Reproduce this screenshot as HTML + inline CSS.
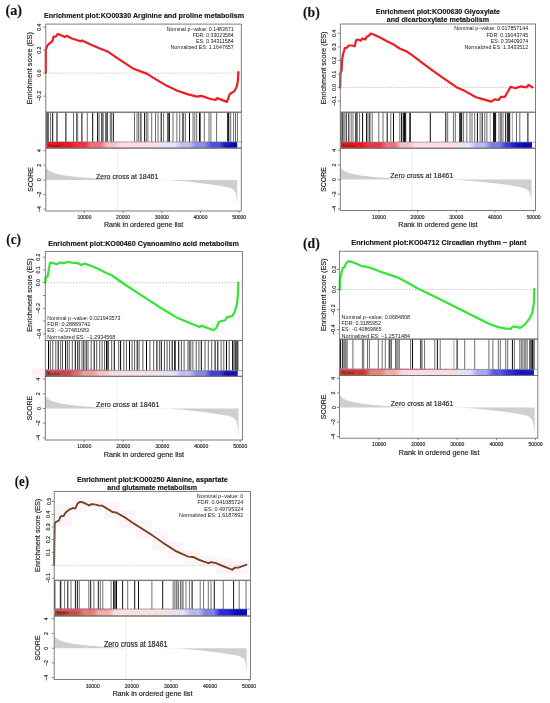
<!DOCTYPE html>
<html><head><meta charset="utf-8"><style>
html,body{margin:0;padding:0;background:#fff;}
svg{display:block;filter:blur(0.35px);}
text{stroke:#333;stroke-width:0.18px;}
text.s{stroke:none;}
</style></head><body>
<svg width="550" height="703" viewBox="0 0 550 703">
<rect width="550" height="703" fill="#ffffff"/>
<text x="5.40" y="15.10" font-size="14.5" font-family="'Liberation Serif', 'Times New Roman', serif" fill="#111" font-weight="bold" textLength="16.60" lengthAdjust="spacingAndGlyphs">(a)</text>
<text x="144.00" y="18.00" font-size="7.8" font-family="'Liberation Sans', Arial, Helvetica, sans-serif" fill="#111" text-anchor="middle" font-weight="bold" textLength="200.00" lengthAdjust="spacingAndGlyphs">Enrichment plot:KO00330 Arginine and proline metabolism</text>
<line x1="45.80" y1="73.10" x2="241.30" y2="73.10" stroke="#aaaaaa" stroke-width="0.8" stroke-dasharray="1.2,1.6"/>
<polyline points="45.80,72.70 45.80,49.50 47.30,45.80 49.10,43.60 51.30,42.20 52.70,40.40 53.50,36.70 55.80,36.70 57.60,34.00 60.40,34.90 64.90,37.10 66.70,35.80 71.30,38.20 76.70,40.00 80.40,41.30 82.20,40.40 85.80,42.20 90.00,44.20 98.70,47.90 107.50,51.40 116.20,57.30 124.90,63.20 133.60,68.80 146.70,73.60 155.50,79.10 166.40,85.60 177.30,90.70 188.20,94.40 196.90,96.60 201.30,95.90 210.00,98.70 215.60,100.00 217.10,98.10 227.00,101.90 229.80,94.00 234.50,91.10 236.80,86.40 237.90,80.70 238.30,72.20" fill="none" stroke="#ee1c24" stroke-width="2.2" stroke-linejoin="round" stroke-linecap="round"/>
<text x="233.70" y="30.60" font-size="5.2" font-family="'Liberation Sans', Arial, Helvetica, sans-serif" fill="#1a1a1a" text-anchor="end" textLength="67.00" lengthAdjust="spacingAndGlyphs" class="s">Nominal p−value: 0.1483671</text>
<text x="233.70" y="36.80" font-size="5.2" font-family="'Liberation Sans', Arial, Helvetica, sans-serif" fill="#1a1a1a" text-anchor="end" textLength="41.00" lengthAdjust="spacingAndGlyphs" class="s">FDR: 0.33023584</text>
<text x="233.70" y="43.00" font-size="5.2" font-family="'Liberation Sans', Arial, Helvetica, sans-serif" fill="#1a1a1a" text-anchor="end" textLength="37.80" lengthAdjust="spacingAndGlyphs" class="s">ES: 0.34311584</text>
<text x="233.70" y="49.20" font-size="5.2" font-family="'Liberation Sans', Arial, Helvetica, sans-serif" fill="#1a1a1a" text-anchor="end" textLength="63.20" lengthAdjust="spacingAndGlyphs" class="s">Normalized ES: 1.1647657</text>
<line x1="43.30" y1="27.10" x2="45.80" y2="27.10" stroke="#707070" stroke-width="0.8"/>
<text x="39.00" y="27.10" font-size="5.2" font-family="'Liberation Sans', Arial, Helvetica, sans-serif" fill="#222" text-anchor="middle" transform="rotate(-90 39.00 27.10)" dominant-baseline="central">0.4</text>
<line x1="43.30" y1="50.10" x2="45.80" y2="50.10" stroke="#707070" stroke-width="0.8"/>
<text x="39.00" y="50.10" font-size="5.2" font-family="'Liberation Sans', Arial, Helvetica, sans-serif" fill="#222" text-anchor="middle" transform="rotate(-90 39.00 50.10)" dominant-baseline="central">0.2</text>
<line x1="43.30" y1="73.10" x2="45.80" y2="73.10" stroke="#707070" stroke-width="0.8"/>
<text x="39.00" y="73.10" font-size="5.2" font-family="'Liberation Sans', Arial, Helvetica, sans-serif" fill="#222" text-anchor="middle" transform="rotate(-90 39.00 73.10)" dominant-baseline="central">0.0</text>
<line x1="43.30" y1="96.10" x2="45.80" y2="96.10" stroke="#707070" stroke-width="0.8"/>
<text x="39.00" y="96.10" font-size="5.2" font-family="'Liberation Sans', Arial, Helvetica, sans-serif" fill="#222" text-anchor="middle" transform="rotate(-90 39.00 96.10)" dominant-baseline="central">−0.2</text>
<text x="30.00" y="68.40" font-size="7.2" font-family="'Liberation Sans', Arial, Helvetica, sans-serif" fill="#222" text-anchor="middle" textLength="72.40" lengthAdjust="spacingAndGlyphs" transform="rotate(-90 30.00 68.40)" dominant-baseline="central">Enrichment score (ES)</text>
<line x1="46.90" y1="112.20" x2="46.90" y2="141.90" stroke="#000" stroke-width="1.0" stroke-opacity="0.9774999999999999"/>
<line x1="48.10" y1="112.20" x2="48.10" y2="141.90" stroke="#000" stroke-width="1.0" stroke-opacity="0.9774999999999999"/>
<line x1="50.60" y1="112.20" x2="50.60" y2="141.90" stroke="#000" stroke-width="1.0" stroke-opacity="0.575"/>
<line x1="52.70" y1="112.20" x2="52.70" y2="141.90" stroke="#000" stroke-width="1.0" stroke-opacity="0.9774999999999999"/>
<line x1="57.00" y1="112.20" x2="57.00" y2="141.90" stroke="#000" stroke-width="1.0" stroke-opacity="0.9774999999999999"/>
<line x1="65.90" y1="112.20" x2="65.90" y2="141.90" stroke="#000" stroke-width="1.0" stroke-opacity="0.9774999999999999"/>
<line x1="73.50" y1="112.20" x2="73.50" y2="141.90" stroke="#000" stroke-width="1.0" stroke-opacity="0.575"/>
<line x1="76.50" y1="112.20" x2="76.50" y2="141.90" stroke="#000" stroke-width="1.0" stroke-opacity="0.575"/>
<line x1="77.70" y1="112.20" x2="77.70" y2="141.90" stroke="#000" stroke-width="1.0" stroke-opacity="0.575"/>
<line x1="81.90" y1="112.20" x2="81.90" y2="141.90" stroke="#000" stroke-width="1.0" stroke-opacity="0.9774999999999999"/>
<line x1="87.30" y1="112.20" x2="87.30" y2="141.90" stroke="#000" stroke-width="1.0" stroke-opacity="0.575"/>
<line x1="92.70" y1="112.20" x2="92.70" y2="141.90" stroke="#000" stroke-width="1.0" stroke-opacity="0.9774999999999999"/>
<line x1="97.60" y1="112.20" x2="97.60" y2="141.90" stroke="#000" stroke-width="1.0" stroke-opacity="0.9774999999999999"/>
<line x1="99.10" y1="112.20" x2="99.10" y2="141.90" stroke="#000" stroke-width="1.0" stroke-opacity="0.575"/>
<line x1="101.50" y1="112.20" x2="101.50" y2="141.90" stroke="#000" stroke-width="1.0" stroke-opacity="0.575"/>
<line x1="102.30" y1="112.20" x2="102.30" y2="141.90" stroke="#000" stroke-width="1.0" stroke-opacity="0.575"/>
<line x1="103.20" y1="112.20" x2="103.20" y2="141.90" stroke="#000" stroke-width="1.0" stroke-opacity="0.575"/>
<line x1="105.90" y1="112.20" x2="105.90" y2="141.90" stroke="#000" stroke-width="1.0" stroke-opacity="0.9774999999999999"/>
<line x1="107.20" y1="112.20" x2="107.20" y2="141.90" stroke="#000" stroke-width="1.0" stroke-opacity="0.9774999999999999"/>
<line x1="110.30" y1="112.20" x2="110.30" y2="141.90" stroke="#000" stroke-width="1.0" stroke-opacity="0.575"/>
<line x1="111.40" y1="112.20" x2="111.40" y2="141.90" stroke="#000" stroke-width="1.0" stroke-opacity="0.575"/>
<line x1="113.30" y1="112.20" x2="113.30" y2="141.90" stroke="#000" stroke-width="1.0" stroke-opacity="0.9774999999999999"/>
<line x1="134.50" y1="112.20" x2="134.50" y2="141.90" stroke="#000" stroke-width="1.0" stroke-opacity="0.575"/>
<line x1="137.00" y1="112.20" x2="137.00" y2="141.90" stroke="#000" stroke-width="1.0" stroke-opacity="0.575"/>
<line x1="138.60" y1="112.20" x2="138.60" y2="141.90" stroke="#000" stroke-width="1.0" stroke-opacity="0.575"/>
<line x1="140.30" y1="112.20" x2="140.30" y2="141.90" stroke="#000" stroke-width="1.0" stroke-opacity="0.575"/>
<line x1="141.20" y1="112.20" x2="141.20" y2="141.90" stroke="#000" stroke-width="1.0" stroke-opacity="0.575"/>
<line x1="144.60" y1="112.20" x2="144.60" y2="141.90" stroke="#000" stroke-width="1.0" stroke-opacity="0.9774999999999999"/>
<line x1="146.30" y1="112.20" x2="146.30" y2="141.90" stroke="#000" stroke-width="1.0" stroke-opacity="0.575"/>
<line x1="147.90" y1="112.20" x2="147.90" y2="141.90" stroke="#000" stroke-width="1.0" stroke-opacity="0.575"/>
<line x1="151.70" y1="112.20" x2="151.70" y2="141.90" stroke="#000" stroke-width="1.0" stroke-opacity="0.575"/>
<line x1="155.50" y1="112.20" x2="155.50" y2="141.90" stroke="#000" stroke-width="1.0" stroke-opacity="0.575"/>
<line x1="158.00" y1="112.20" x2="158.00" y2="141.90" stroke="#000" stroke-width="1.0" stroke-opacity="0.575"/>
<line x1="161.20" y1="112.20" x2="161.20" y2="141.90" stroke="#000" stroke-width="1.0" stroke-opacity="0.9774999999999999"/>
<line x1="163.60" y1="112.20" x2="163.60" y2="141.90" stroke="#000" stroke-width="1.0" stroke-opacity="0.575"/>
<line x1="168.00" y1="112.20" x2="168.00" y2="141.90" stroke="#000" stroke-width="2.2" stroke-opacity="0.575"/>
<line x1="169.40" y1="112.20" x2="169.40" y2="141.90" stroke="#000" stroke-width="1.0" stroke-opacity="0.9774999999999999"/>
<line x1="173.00" y1="112.20" x2="173.00" y2="141.90" stroke="#000" stroke-width="1.0" stroke-opacity="0.575"/>
<line x1="176.90" y1="112.20" x2="176.90" y2="141.90" stroke="#000" stroke-width="1.0" stroke-opacity="0.575"/>
<line x1="179.70" y1="112.20" x2="179.70" y2="141.90" stroke="#000" stroke-width="1.0" stroke-opacity="0.575"/>
<line x1="183.00" y1="112.20" x2="183.00" y2="141.90" stroke="#000" stroke-width="2.2" stroke-opacity="0.575"/>
<line x1="185.40" y1="112.20" x2="185.40" y2="141.90" stroke="#000" stroke-width="1.0" stroke-opacity="0.575"/>
<line x1="189.50" y1="112.20" x2="189.50" y2="141.90" stroke="#000" stroke-width="1.0" stroke-opacity="0.9774999999999999"/>
<line x1="193.00" y1="112.20" x2="193.00" y2="141.90" stroke="#000" stroke-width="1.0" stroke-opacity="0.575"/>
<line x1="194.80" y1="112.20" x2="194.80" y2="141.90" stroke="#000" stroke-width="1.0" stroke-opacity="0.575"/>
<line x1="196.70" y1="112.20" x2="196.70" y2="141.90" stroke="#000" stroke-width="1.0" stroke-opacity="0.575"/>
<line x1="199.50" y1="112.20" x2="199.50" y2="141.90" stroke="#000" stroke-width="1.0" stroke-opacity="0.9774999999999999"/>
<line x1="200.50" y1="112.20" x2="200.50" y2="141.90" stroke="#000" stroke-width="1.0" stroke-opacity="0.575"/>
<line x1="204.30" y1="112.20" x2="204.30" y2="141.90" stroke="#000" stroke-width="1.0" stroke-opacity="0.575"/>
<line x1="209.00" y1="112.20" x2="209.00" y2="141.90" stroke="#000" stroke-width="1.0" stroke-opacity="0.575"/>
<line x1="210.90" y1="112.20" x2="210.90" y2="141.90" stroke="#000" stroke-width="1.0" stroke-opacity="0.575"/>
<line x1="216.60" y1="112.20" x2="216.60" y2="141.90" stroke="#000" stroke-width="1.0" stroke-opacity="0.575"/>
<line x1="228.20" y1="112.20" x2="228.20" y2="141.90" stroke="#000" stroke-width="2.2" stroke-opacity="0.8624999999999999"/>
<line x1="230.70" y1="112.20" x2="230.70" y2="141.90" stroke="#000" stroke-width="1.0" stroke-opacity="0.575"/>
<line x1="233.60" y1="112.20" x2="233.60" y2="141.90" stroke="#000" stroke-width="1.0" stroke-opacity="0.575"/>
<line x1="235.50" y1="112.20" x2="235.50" y2="141.90" stroke="#000" stroke-width="1.0" stroke-opacity="0.575"/>
<line x1="237.40" y1="112.20" x2="237.40" y2="141.90" stroke="#000" stroke-width="1.0" stroke-opacity="0.575"/>
<defs><linearGradient id="ga" x1="0" x2="1" y1="0" y2="0"><stop offset="0.000" stop-color="#e8141e"/><stop offset="0.122" stop-color="#e8141e"/><stop offset="0.158" stop-color="#ee3040"/><stop offset="0.200" stop-color="#ee3040"/><stop offset="0.237" stop-color="#f47080"/><stop offset="0.284" stop-color="#f47080"/><stop offset="0.321" stop-color="#f8c0c6"/><stop offset="0.357" stop-color="#f8c0c6"/><stop offset="0.394" stop-color="#fcdde0"/><stop offset="0.580" stop-color="#fcdde0"/><stop offset="0.617" stop-color="#e4e4fa"/><stop offset="0.672" stop-color="#e4e4fa"/><stop offset="0.708" stop-color="#c0c0f2"/><stop offset="0.750" stop-color="#c0c0f2"/><stop offset="0.787" stop-color="#8c8cea"/><stop offset="0.829" stop-color="#8c8cea"/><stop offset="0.865" stop-color="#5050e0"/><stop offset="0.902" stop-color="#5050e0"/><stop offset="0.939" stop-color="#1c1cd2"/><stop offset="0.944" stop-color="#1c1cd2"/><stop offset="0.981" stop-color="#0808cc"/><stop offset="1.000" stop-color="#0808cc"/></linearGradient></defs>
<rect x="46.30" y="141.90" width="190.90" height="6.20" fill="url(#ga)"/>
<path d="M46.00,179.90 L46.00,167.09 L47.00,168.92 L49.00,170.75 L52.00,172.21 L55.50,173.46 L60.00,174.63 L68.00,176.02 L80.00,177.34 L96.00,178.58 L110.00,179.31 L117.60,179.90 L140.00,180.05 L170.00,180.27 L185.00,181.36 L199.00,182.97 L210.00,184.29 L221.00,186.05 L228.00,187.22 L231.00,188.24 L234.00,190.15 L235.50,192.34 L236.50,196.74 L237.20,205.52 L237.20,179.90 Z" fill="#cfcfcf" stroke="none"/>
<line x1="117.60" y1="148.10" x2="117.60" y2="211.00" stroke="#ebebeb" stroke-width="0.8"/>
<text x="96.10" y="178.80" font-size="8.0" font-family="'Liberation Sans', Arial, Helvetica, sans-serif" fill="#1a1a1a" textLength="62.30" lengthAdjust="spacingAndGlyphs">Zero cross at 18461</text>
<line x1="43.30" y1="150.62" x2="45.80" y2="150.62" stroke="#707070" stroke-width="0.8"/>
<text x="39.00" y="150.62" font-size="5.2" font-family="'Liberation Sans', Arial, Helvetica, sans-serif" fill="#222" text-anchor="middle" transform="rotate(-90 39.00 150.62)" dominant-baseline="central">4</text>
<line x1="43.30" y1="165.26" x2="45.80" y2="165.26" stroke="#707070" stroke-width="0.8"/>
<text x="39.00" y="165.26" font-size="5.2" font-family="'Liberation Sans', Arial, Helvetica, sans-serif" fill="#222" text-anchor="middle" transform="rotate(-90 39.00 165.26)" dominant-baseline="central">2</text>
<line x1="43.30" y1="179.90" x2="45.80" y2="179.90" stroke="#707070" stroke-width="0.8"/>
<text x="39.00" y="179.90" font-size="5.2" font-family="'Liberation Sans', Arial, Helvetica, sans-serif" fill="#222" text-anchor="middle" transform="rotate(-90 39.00 179.90)" dominant-baseline="central">0</text>
<line x1="43.30" y1="194.54" x2="45.80" y2="194.54" stroke="#707070" stroke-width="0.8"/>
<text x="39.00" y="194.54" font-size="5.2" font-family="'Liberation Sans', Arial, Helvetica, sans-serif" fill="#222" text-anchor="middle" transform="rotate(-90 39.00 194.54)" dominant-baseline="central">−2</text>
<line x1="43.30" y1="209.18" x2="45.80" y2="209.18" stroke="#707070" stroke-width="0.8"/>
<text x="39.00" y="209.18" font-size="5.2" font-family="'Liberation Sans', Arial, Helvetica, sans-serif" fill="#222" text-anchor="middle" transform="rotate(-90 39.00 209.18)" dominant-baseline="central">−4</text>
<text x="30.20" y="179.50" font-size="7.2" font-family="'Liberation Sans', Arial, Helvetica, sans-serif" fill="#222" text-anchor="middle" textLength="24.50" lengthAdjust="spacingAndGlyphs" transform="rotate(-90 30.20 179.50)" dominant-baseline="central">SCORE</text>
<line x1="84.47" y1="211.00" x2="84.47" y2="213.00" stroke="#707070" stroke-width="0.8"/>
<text x="84.47" y="218.60" font-size="5.0" font-family="'Liberation Sans', Arial, Helvetica, sans-serif" fill="#222" text-anchor="middle" textLength="14.00" lengthAdjust="spacingAndGlyphs">10000</text>
<line x1="123.14" y1="211.00" x2="123.14" y2="213.00" stroke="#707070" stroke-width="0.8"/>
<text x="123.14" y="218.60" font-size="5.0" font-family="'Liberation Sans', Arial, Helvetica, sans-serif" fill="#222" text-anchor="middle" textLength="14.00" lengthAdjust="spacingAndGlyphs">20000</text>
<line x1="161.81" y1="211.00" x2="161.81" y2="213.00" stroke="#707070" stroke-width="0.8"/>
<text x="161.81" y="218.60" font-size="5.0" font-family="'Liberation Sans', Arial, Helvetica, sans-serif" fill="#222" text-anchor="middle" textLength="14.00" lengthAdjust="spacingAndGlyphs">30000</text>
<line x1="200.48" y1="211.00" x2="200.48" y2="213.00" stroke="#707070" stroke-width="0.8"/>
<text x="200.48" y="218.60" font-size="5.0" font-family="'Liberation Sans', Arial, Helvetica, sans-serif" fill="#222" text-anchor="middle" textLength="14.00" lengthAdjust="spacingAndGlyphs">40000</text>
<line x1="239.15" y1="211.00" x2="239.15" y2="213.00" stroke="#707070" stroke-width="0.8"/>
<text x="239.15" y="218.60" font-size="5.0" font-family="'Liberation Sans', Arial, Helvetica, sans-serif" fill="#222" text-anchor="middle" textLength="14.00" lengthAdjust="spacingAndGlyphs">50000</text>
<text x="143.60" y="226.70" font-size="6.9" font-family="'Liberation Sans', Arial, Helvetica, sans-serif" fill="#1a1a1a" text-anchor="middle" textLength="79.30" lengthAdjust="spacingAndGlyphs">Rank in ordered gene list</text>
<g fill="none" stroke="#707070" stroke-width="0.9">
<rect x="45.80" y="24.10" width="195.50" height="88.10"/>
<rect x="45.80" y="112.20" width="195.50" height="35.90"/>
<rect x="45.80" y="148.10" width="195.50" height="62.90"/>
<line x1="45.80" y1="141.90" x2="241.30" y2="141.90" stroke-width="0.6"/>
</g>
<text x="48.30" y="146.50" font-size="2.6" font-family="'Liberation Sans', Arial, Helvetica, sans-serif" fill="#5a1010" textLength="12.00" lengthAdjust="spacingAndGlyphs" class="s">Positive</text>
<text x="235.20" y="146.50" font-size="2.6" font-family="'Liberation Sans', Arial, Helvetica, sans-serif" fill="#10105a" text-anchor="end" textLength="12.00" lengthAdjust="spacingAndGlyphs" class="s">Negative</text>
<text x="303.00" y="17.10" font-size="14.5" font-family="'Liberation Serif', 'Times New Roman', serif" fill="#111" font-weight="bold" textLength="16.80" lengthAdjust="spacingAndGlyphs">(b)</text>
<text x="437.90" y="13.70" font-size="7.4" font-family="'Liberation Sans', Arial, Helvetica, sans-serif" fill="#111" text-anchor="middle" font-weight="bold" textLength="124.30" lengthAdjust="spacingAndGlyphs">Enrichment plot:KO00630 Glyoxylate</text>
<text x="437.90" y="21.60" font-size="7.4" font-family="'Liberation Sans', Arial, Helvetica, sans-serif" fill="#111" text-anchor="middle" font-weight="bold" textLength="102.20" lengthAdjust="spacingAndGlyphs">and dicarboxylate metabolism</text>
<line x1="340.30" y1="87.40" x2="535.50" y2="87.40" stroke="#aaaaaa" stroke-width="0.8" stroke-dasharray="1.2,1.6"/>
<polyline points="340.20,87.60 340.50,73.10 341.60,70.40 342.00,60.40 343.10,54.00 344.90,48.00 347.10,47.60 348.50,45.50 351.60,45.50 354.70,46.20 356.20,40.00 358.00,39.50 360.70,40.70 362.50,38.50 365.30,39.50 366.70,36.70 368.90,35.80 370.70,33.50 372.50,34.00 380.00,37.60 386.50,40.90 393.10,44.20 399.60,48.50 407.30,51.80 412.70,55.70 423.60,63.80 434.50,71.90 445.50,79.70 456.40,87.20 465.10,91.10 476.00,97.20 483.60,99.40 491.30,101.60 494.60,99.40 498.60,100.00 501.10,96.80 504.90,96.80 507.70,92.00 510.60,86.80 515.30,88.30 521.00,86.40 526.60,87.30 528.50,84.90 532.30,87.30" fill="none" stroke="#ee1c24" stroke-width="2.2" stroke-linejoin="round" stroke-linecap="round"/>
<text x="528.20" y="30.20" font-size="5.2" font-family="'Liberation Sans', Arial, Helvetica, sans-serif" fill="#1a1a1a" text-anchor="end" textLength="74.00" lengthAdjust="spacingAndGlyphs" class="s">Nominal p−value: 0.017857144</text>
<text x="528.20" y="36.50" font-size="5.2" font-family="'Liberation Sans', Arial, Helvetica, sans-serif" fill="#1a1a1a" text-anchor="end" textLength="41.80" lengthAdjust="spacingAndGlyphs" class="s">FDR: 0.19043745</text>
<text x="528.20" y="42.80" font-size="5.2" font-family="'Liberation Sans', Arial, Helvetica, sans-serif" fill="#1a1a1a" text-anchor="end" textLength="37.40" lengthAdjust="spacingAndGlyphs" class="s">ES: 0.39409074</text>
<text x="528.20" y="49.10" font-size="5.2" font-family="'Liberation Sans', Arial, Helvetica, sans-serif" fill="#1a1a1a" text-anchor="end" textLength="63.80" lengthAdjust="spacingAndGlyphs" class="s">Normalized ES: 1.3433512</text>
<line x1="337.80" y1="33.30" x2="340.30" y2="33.30" stroke="#707070" stroke-width="0.8"/>
<text x="333.60" y="33.30" font-size="5.2" font-family="'Liberation Sans', Arial, Helvetica, sans-serif" fill="#222" text-anchor="middle" transform="rotate(-90 333.60 33.30)" dominant-baseline="central">0.4</text>
<line x1="337.80" y1="46.90" x2="340.30" y2="46.90" stroke="#707070" stroke-width="0.8"/>
<text x="333.60" y="46.90" font-size="5.2" font-family="'Liberation Sans', Arial, Helvetica, sans-serif" fill="#222" text-anchor="middle" transform="rotate(-90 333.60 46.90)" dominant-baseline="central">0.3</text>
<line x1="337.80" y1="60.50" x2="340.30" y2="60.50" stroke="#707070" stroke-width="0.8"/>
<text x="333.60" y="60.50" font-size="5.2" font-family="'Liberation Sans', Arial, Helvetica, sans-serif" fill="#222" text-anchor="middle" transform="rotate(-90 333.60 60.50)" dominant-baseline="central">0.2</text>
<line x1="337.80" y1="74.10" x2="340.30" y2="74.10" stroke="#707070" stroke-width="0.8"/>
<text x="333.60" y="74.10" font-size="5.2" font-family="'Liberation Sans', Arial, Helvetica, sans-serif" fill="#222" text-anchor="middle" transform="rotate(-90 333.60 74.10)" dominant-baseline="central">0.1</text>
<line x1="337.80" y1="87.40" x2="340.30" y2="87.40" stroke="#707070" stroke-width="0.8"/>
<text x="333.60" y="87.40" font-size="5.2" font-family="'Liberation Sans', Arial, Helvetica, sans-serif" fill="#222" text-anchor="middle" transform="rotate(-90 333.60 87.40)" dominant-baseline="central">0.0</text>
<line x1="337.80" y1="101.00" x2="340.30" y2="101.00" stroke="#707070" stroke-width="0.8"/>
<text x="333.60" y="101.00" font-size="5.2" font-family="'Liberation Sans', Arial, Helvetica, sans-serif" fill="#222" text-anchor="middle" transform="rotate(-90 333.60 101.00)" dominant-baseline="central">−0.1</text>
<text x="323.60" y="68.00" font-size="7.2" font-family="'Liberation Sans', Arial, Helvetica, sans-serif" fill="#222" text-anchor="middle" textLength="73.00" lengthAdjust="spacingAndGlyphs" transform="rotate(-90 323.60 68.00)" dominant-baseline="central">Enrichment score (ES)</text>
<line x1="341.00" y1="112.20" x2="341.00" y2="142.10" stroke="#000" stroke-width="1.0" stroke-opacity="0.9774999999999999"/>
<line x1="342.80" y1="112.20" x2="342.80" y2="142.10" stroke="#000" stroke-width="1.0" stroke-opacity="0.9774999999999999"/>
<line x1="344.20" y1="112.20" x2="344.20" y2="142.10" stroke="#000" stroke-width="1.0" stroke-opacity="0.575"/>
<line x1="346.20" y1="112.20" x2="346.20" y2="142.10" stroke="#000" stroke-width="1.0" stroke-opacity="0.9774999999999999"/>
<line x1="348.80" y1="112.20" x2="348.80" y2="142.10" stroke="#000" stroke-width="1.0" stroke-opacity="0.9774999999999999"/>
<line x1="351.20" y1="112.20" x2="351.20" y2="142.10" stroke="#000" stroke-width="1.0" stroke-opacity="0.575"/>
<line x1="353.00" y1="112.20" x2="353.00" y2="142.10" stroke="#000" stroke-width="1.0" stroke-opacity="0.575"/>
<line x1="355.80" y1="112.20" x2="355.80" y2="142.10" stroke="#000" stroke-width="1.0" stroke-opacity="0.9774999999999999"/>
<line x1="357.00" y1="112.20" x2="357.00" y2="142.10" stroke="#000" stroke-width="1.0" stroke-opacity="0.9774999999999999"/>
<line x1="359.60" y1="112.20" x2="359.60" y2="142.10" stroke="#000" stroke-width="1.0" stroke-opacity="0.575"/>
<line x1="362.60" y1="112.20" x2="362.60" y2="142.10" stroke="#000" stroke-width="1.0" stroke-opacity="0.9774999999999999"/>
<line x1="366.60" y1="112.20" x2="366.60" y2="142.10" stroke="#000" stroke-width="1.0" stroke-opacity="0.9774999999999999"/>
<line x1="368.00" y1="112.20" x2="368.00" y2="142.10" stroke="#000" stroke-width="1.0" stroke-opacity="0.575"/>
<line x1="369.80" y1="112.20" x2="369.80" y2="142.10" stroke="#000" stroke-width="1.0" stroke-opacity="0.9774999999999999"/>
<line x1="372.20" y1="112.20" x2="372.20" y2="142.10" stroke="#000" stroke-width="1.0" stroke-opacity="0.575"/>
<line x1="378.80" y1="112.20" x2="378.80" y2="142.10" stroke="#000" stroke-width="1.0" stroke-opacity="0.575"/>
<line x1="383.00" y1="112.20" x2="383.00" y2="142.10" stroke="#000" stroke-width="1.0" stroke-opacity="0.575"/>
<line x1="387.20" y1="112.20" x2="387.20" y2="142.10" stroke="#000" stroke-width="1.0" stroke-opacity="0.9774999999999999"/>
<line x1="390.80" y1="112.20" x2="390.80" y2="142.10" stroke="#000" stroke-width="1.0" stroke-opacity="0.575"/>
<line x1="393.50" y1="112.20" x2="393.50" y2="142.10" stroke="#000" stroke-width="1.0" stroke-opacity="0.9774999999999999"/>
<line x1="399.80" y1="112.20" x2="399.80" y2="142.10" stroke="#000" stroke-width="1.0" stroke-opacity="0.575"/>
<line x1="401.60" y1="112.20" x2="401.60" y2="142.10" stroke="#000" stroke-width="1.0" stroke-opacity="0.9774999999999999"/>
<line x1="403.30" y1="112.20" x2="403.30" y2="142.10" stroke="#000" stroke-width="1.0" stroke-opacity="1.0"/>
<line x1="404.50" y1="112.20" x2="404.50" y2="142.10" stroke="#000" stroke-width="1.0" stroke-opacity="1.0"/>
<line x1="405.70" y1="112.20" x2="405.70" y2="142.10" stroke="#000" stroke-width="1.0" stroke-opacity="1.0"/>
<line x1="409.50" y1="112.20" x2="409.50" y2="142.10" stroke="#000" stroke-width="1.0" stroke-opacity="0.575"/>
<line x1="410.30" y1="112.20" x2="410.30" y2="142.10" stroke="#000" stroke-width="1.0" stroke-opacity="0.9774999999999999"/>
<line x1="430.30" y1="112.20" x2="430.30" y2="142.10" stroke="#000" stroke-width="1.0" stroke-opacity="0.9774999999999999"/>
<line x1="445.80" y1="112.20" x2="445.80" y2="142.10" stroke="#000" stroke-width="1.0" stroke-opacity="0.9774999999999999"/>
<line x1="447.70" y1="112.20" x2="447.70" y2="142.10" stroke="#000" stroke-width="1.0" stroke-opacity="0.575"/>
<line x1="453.40" y1="112.20" x2="453.40" y2="142.10" stroke="#000" stroke-width="1.0" stroke-opacity="0.575"/>
<line x1="455.30" y1="112.20" x2="455.30" y2="142.10" stroke="#000" stroke-width="1.0" stroke-opacity="0.575"/>
<line x1="459.80" y1="112.20" x2="459.80" y2="142.10" stroke="#000" stroke-width="1.0" stroke-opacity="1.0"/>
<line x1="460.80" y1="112.20" x2="460.80" y2="142.10" stroke="#000" stroke-width="1.0" stroke-opacity="1.0"/>
<line x1="461.70" y1="112.20" x2="461.70" y2="142.10" stroke="#000" stroke-width="1.0" stroke-opacity="1.0"/>
<line x1="463.60" y1="112.20" x2="463.60" y2="142.10" stroke="#000" stroke-width="1.0" stroke-opacity="0.575"/>
<line x1="466.80" y1="112.20" x2="466.80" y2="142.10" stroke="#000" stroke-width="1.0" stroke-opacity="0.575"/>
<line x1="470.00" y1="112.20" x2="470.00" y2="142.10" stroke="#000" stroke-width="1.0" stroke-opacity="0.575"/>
<line x1="472.00" y1="112.20" x2="472.00" y2="142.10" stroke="#000" stroke-width="1.0" stroke-opacity="0.575"/>
<line x1="474.70" y1="112.20" x2="474.70" y2="142.10" stroke="#000" stroke-width="1.0" stroke-opacity="0.575"/>
<line x1="477.40" y1="112.20" x2="477.40" y2="142.10" stroke="#000" stroke-width="1.0" stroke-opacity="0.9774999999999999"/>
<line x1="480.10" y1="112.20" x2="480.10" y2="142.10" stroke="#000" stroke-width="1.0" stroke-opacity="0.575"/>
<line x1="482.20" y1="112.20" x2="482.20" y2="142.10" stroke="#000" stroke-width="1.0" stroke-opacity="0.9774999999999999"/>
<line x1="484.80" y1="112.20" x2="484.80" y2="142.10" stroke="#000" stroke-width="1.0" stroke-opacity="0.575"/>
<line x1="486.90" y1="112.20" x2="486.90" y2="142.10" stroke="#000" stroke-width="1.0" stroke-opacity="0.575"/>
<line x1="490.20" y1="112.20" x2="490.20" y2="142.10" stroke="#000" stroke-width="1.0" stroke-opacity="0.345"/>
<line x1="493.60" y1="112.20" x2="493.60" y2="142.10" stroke="#000" stroke-width="1.0" stroke-opacity="0.9774999999999999"/>
<line x1="494.60" y1="112.20" x2="494.60" y2="142.10" stroke="#000" stroke-width="1.0" stroke-opacity="0.9774999999999999"/>
<line x1="495.60" y1="112.20" x2="495.60" y2="142.10" stroke="#000" stroke-width="1.0" stroke-opacity="0.9774999999999999"/>
<line x1="499.00" y1="112.20" x2="499.00" y2="142.10" stroke="#000" stroke-width="1.0" stroke-opacity="0.575"/>
<line x1="501.00" y1="112.20" x2="501.00" y2="142.10" stroke="#000" stroke-width="1.0" stroke-opacity="0.9774999999999999"/>
<line x1="503.00" y1="112.20" x2="503.00" y2="142.10" stroke="#000" stroke-width="1.0" stroke-opacity="0.575"/>
<line x1="505.70" y1="112.20" x2="505.70" y2="142.10" stroke="#000" stroke-width="1.0" stroke-opacity="0.9774999999999999"/>
<line x1="507.70" y1="112.20" x2="507.70" y2="142.10" stroke="#000" stroke-width="1.0" stroke-opacity="0.9774999999999999"/>
<line x1="508.70" y1="112.20" x2="508.70" y2="142.10" stroke="#000" stroke-width="1.0" stroke-opacity="0.9774999999999999"/>
<line x1="509.70" y1="112.20" x2="509.70" y2="142.10" stroke="#000" stroke-width="1.0" stroke-opacity="0.9774999999999999"/>
<line x1="512.40" y1="112.20" x2="512.40" y2="142.10" stroke="#000" stroke-width="1.0" stroke-opacity="0.345"/>
<line x1="516.50" y1="112.20" x2="516.50" y2="142.10" stroke="#000" stroke-width="1.0" stroke-opacity="0.575"/>
<line x1="519.80" y1="112.20" x2="519.80" y2="142.10" stroke="#000" stroke-width="1.0" stroke-opacity="0.575"/>
<line x1="527.90" y1="112.20" x2="527.90" y2="142.10" stroke="#000" stroke-width="1.0" stroke-opacity="0.9774999999999999"/>
<defs><linearGradient id="gb" x1="0" x2="1" y1="0" y2="0"><stop offset="0.000" stop-color="#e8141e"/><stop offset="0.108" stop-color="#e8141e"/><stop offset="0.145" stop-color="#ee3040"/><stop offset="0.202" stop-color="#ee3040"/><stop offset="0.239" stop-color="#f47080"/><stop offset="0.281" stop-color="#f47080"/><stop offset="0.317" stop-color="#f8c0c6"/><stop offset="0.354" stop-color="#f8c0c6"/><stop offset="0.391" stop-color="#fcdde0"/><stop offset="0.595" stop-color="#fcdde0"/><stop offset="0.631" stop-color="#e4e4fa"/><stop offset="0.673" stop-color="#e4e4fa"/><stop offset="0.710" stop-color="#b8b8f0"/><stop offset="0.752" stop-color="#b8b8f0"/><stop offset="0.788" stop-color="#7c7ce8"/><stop offset="0.830" stop-color="#7c7ce8"/><stop offset="0.867" stop-color="#3c3cda"/><stop offset="0.877" stop-color="#3c3cda"/><stop offset="0.914" stop-color="#1414d0"/><stop offset="0.929" stop-color="#1414d0"/><stop offset="0.966" stop-color="#0808cc"/><stop offset="1.000" stop-color="#0808cc"/></linearGradient></defs>
<rect x="340.80" y="142.10" width="191.20" height="6.10" fill="url(#gb)"/>
<path d="M340.50,179.60 L340.50,167.16 L341.50,168.62 L343.50,170.45 L346.50,171.91 L350.00,173.16 L354.50,174.33 L362.50,175.72 L374.50,177.04 L390.50,178.28 L404.50,179.01 L412.10,179.60 L434.50,179.75 L458.00,179.97 L478.00,181.43 L494.50,183.26 L508.00,185.09 L520.00,187.29 L526.00,189.12 L529.00,191.31 L530.50,195.70 L531.50,200.10 L531.50,179.60 Z" fill="#cfcfcf" stroke="none"/>
<line x1="412.10" y1="148.20" x2="412.10" y2="210.50" stroke="#ebebeb" stroke-width="0.8"/>
<text x="390.20" y="178.30" font-size="8.0" font-family="'Liberation Sans', Arial, Helvetica, sans-serif" fill="#1a1a1a" textLength="63.00" lengthAdjust="spacingAndGlyphs">Zero cross at 18461</text>
<line x1="337.80" y1="150.32" x2="340.30" y2="150.32" stroke="#707070" stroke-width="0.8"/>
<text x="333.60" y="150.32" font-size="5.2" font-family="'Liberation Sans', Arial, Helvetica, sans-serif" fill="#222" text-anchor="middle" transform="rotate(-90 333.60 150.32)" dominant-baseline="central">4</text>
<line x1="337.80" y1="164.96" x2="340.30" y2="164.96" stroke="#707070" stroke-width="0.8"/>
<text x="333.60" y="164.96" font-size="5.2" font-family="'Liberation Sans', Arial, Helvetica, sans-serif" fill="#222" text-anchor="middle" transform="rotate(-90 333.60 164.96)" dominant-baseline="central">2</text>
<line x1="337.80" y1="179.60" x2="340.30" y2="179.60" stroke="#707070" stroke-width="0.8"/>
<text x="333.60" y="179.60" font-size="5.2" font-family="'Liberation Sans', Arial, Helvetica, sans-serif" fill="#222" text-anchor="middle" transform="rotate(-90 333.60 179.60)" dominant-baseline="central">0</text>
<line x1="337.80" y1="194.24" x2="340.30" y2="194.24" stroke="#707070" stroke-width="0.8"/>
<text x="333.60" y="194.24" font-size="5.2" font-family="'Liberation Sans', Arial, Helvetica, sans-serif" fill="#222" text-anchor="middle" transform="rotate(-90 333.60 194.24)" dominant-baseline="central">−2</text>
<line x1="337.80" y1="208.88" x2="340.30" y2="208.88" stroke="#707070" stroke-width="0.8"/>
<text x="333.60" y="208.88" font-size="5.2" font-family="'Liberation Sans', Arial, Helvetica, sans-serif" fill="#222" text-anchor="middle" transform="rotate(-90 333.60 208.88)" dominant-baseline="central">−4</text>
<text x="323.60" y="179.50" font-size="7.2" font-family="'Liberation Sans', Arial, Helvetica, sans-serif" fill="#222" text-anchor="middle" textLength="24.50" lengthAdjust="spacingAndGlyphs" transform="rotate(-90 323.60 179.50)" dominant-baseline="central">SCORE</text>
<line x1="378.97" y1="210.50" x2="378.97" y2="212.50" stroke="#707070" stroke-width="0.8"/>
<text x="378.97" y="218.60" font-size="5.0" font-family="'Liberation Sans', Arial, Helvetica, sans-serif" fill="#222" text-anchor="middle" textLength="14.00" lengthAdjust="spacingAndGlyphs">10000</text>
<line x1="417.64" y1="210.50" x2="417.64" y2="212.50" stroke="#707070" stroke-width="0.8"/>
<text x="417.64" y="218.60" font-size="5.0" font-family="'Liberation Sans', Arial, Helvetica, sans-serif" fill="#222" text-anchor="middle" textLength="14.00" lengthAdjust="spacingAndGlyphs">20000</text>
<line x1="456.31" y1="210.50" x2="456.31" y2="212.50" stroke="#707070" stroke-width="0.8"/>
<text x="456.31" y="218.60" font-size="5.0" font-family="'Liberation Sans', Arial, Helvetica, sans-serif" fill="#222" text-anchor="middle" textLength="14.00" lengthAdjust="spacingAndGlyphs">30000</text>
<line x1="494.98" y1="210.50" x2="494.98" y2="212.50" stroke="#707070" stroke-width="0.8"/>
<text x="494.98" y="218.60" font-size="5.0" font-family="'Liberation Sans', Arial, Helvetica, sans-serif" fill="#222" text-anchor="middle" textLength="14.00" lengthAdjust="spacingAndGlyphs">40000</text>
<line x1="533.65" y1="210.50" x2="533.65" y2="212.50" stroke="#707070" stroke-width="0.8"/>
<text x="533.65" y="218.60" font-size="5.0" font-family="'Liberation Sans', Arial, Helvetica, sans-serif" fill="#222" text-anchor="middle" textLength="14.00" lengthAdjust="spacingAndGlyphs">50000</text>
<text x="437.90" y="226.70" font-size="6.9" font-family="'Liberation Sans', Arial, Helvetica, sans-serif" fill="#1a1a1a" text-anchor="middle" textLength="79.30" lengthAdjust="spacingAndGlyphs">Rank in ordered gene list</text>
<g fill="none" stroke="#707070" stroke-width="0.9">
<rect x="340.30" y="24.00" width="195.20" height="88.20"/>
<rect x="340.30" y="112.20" width="195.20" height="36.00"/>
<rect x="340.30" y="148.20" width="195.20" height="62.30"/>
<line x1="340.30" y1="142.10" x2="535.50" y2="142.10" stroke-width="0.6"/>
</g>
<text x="342.80" y="146.60" font-size="2.6" font-family="'Liberation Sans', Arial, Helvetica, sans-serif" fill="#5a1010" textLength="12.00" lengthAdjust="spacingAndGlyphs" class="s">Positive</text>
<text x="530.00" y="146.60" font-size="2.6" font-family="'Liberation Sans', Arial, Helvetica, sans-serif" fill="#10105a" text-anchor="end" textLength="12.00" lengthAdjust="spacingAndGlyphs" class="s">Negative</text>
<text x="6.20" y="244.20" font-size="14.5" font-family="'Liberation Serif', 'Times New Roman', serif" fill="#111" font-weight="bold" textLength="14.80" lengthAdjust="spacingAndGlyphs">(c)</text>
<text x="143.60" y="245.60" font-size="7.8" font-family="'Liberation Sans', Arial, Helvetica, sans-serif" fill="#111" text-anchor="middle" font-weight="bold" textLength="190.80" lengthAdjust="spacingAndGlyphs">Enrichment plot:KO00460 Cyanoamino acid metabolism</text>
<line x1="45.30" y1="282.70" x2="242.40" y2="282.70" stroke="#aaaaaa" stroke-width="0.8" stroke-dasharray="1.2,1.6"/>
<polyline points="45.20,282.70 45.70,277.30 47.50,276.90 49.90,263.10 52.10,262.70 56.60,264.20 60.30,262.40 63.90,263.10 67.50,262.00 72.10,262.70 77.50,263.10 81.20,264.90 84.80,263.60 90.30,265.50 97.50,268.50 104.80,272.20 112.10,275.50 124.80,284.50 140.00,294.40 158.90,306.70 177.80,318.10 189.10,322.80 199.50,327.10 201.40,325.60 213.70,330.30 216.60,327.50 219.00,321.80 225.10,320.30 227.00,317.10 232.20,316.20 234.50,312.40 236.80,304.80 237.90,295.40 238.30,282.50" fill="none" stroke="#33e633" stroke-width="2.2" stroke-linejoin="round" stroke-linecap="round"/>
<text x="47.20" y="320.00" font-size="5.2" font-family="'Liberation Sans', Arial, Helvetica, sans-serif" fill="#1a1a1a" textLength="73.20" lengthAdjust="spacingAndGlyphs" class="s">Nominal p−value: 0.021943573</text>
<text x="47.20" y="326.20" font-size="5.2" font-family="'Liberation Sans', Arial, Helvetica, sans-serif" fill="#1a1a1a" textLength="43.10" lengthAdjust="spacingAndGlyphs" class="s">FDR: 0.28889742</text>
<text x="47.20" y="332.40" font-size="5.2" font-family="'Liberation Sans', Arial, Helvetica, sans-serif" fill="#1a1a1a" textLength="41.90" lengthAdjust="spacingAndGlyphs" class="s">ES: −0.37481683</text>
<text x="47.20" y="338.60" font-size="5.2" font-family="'Liberation Sans', Arial, Helvetica, sans-serif" fill="#1a1a1a" textLength="68.10" lengthAdjust="spacingAndGlyphs" class="s">Normalized ES: −1.2934568</text>
<line x1="42.80" y1="257.10" x2="45.30" y2="257.10" stroke="#707070" stroke-width="0.8"/>
<text x="38.50" y="257.10" font-size="5.2" font-family="'Liberation Sans', Arial, Helvetica, sans-serif" fill="#222" text-anchor="middle" transform="rotate(-90 38.50 257.10)" dominant-baseline="central">0.2</text>
<line x1="42.80" y1="269.90" x2="45.30" y2="269.90" stroke="#707070" stroke-width="0.8"/>
<text x="38.50" y="269.90" font-size="5.2" font-family="'Liberation Sans', Arial, Helvetica, sans-serif" fill="#222" text-anchor="middle" transform="rotate(-90 38.50 269.90)" dominant-baseline="central">0.1</text>
<line x1="42.80" y1="282.70" x2="45.30" y2="282.70" stroke="#707070" stroke-width="0.8"/>
<text x="38.50" y="282.70" font-size="5.2" font-family="'Liberation Sans', Arial, Helvetica, sans-serif" fill="#222" text-anchor="middle" transform="rotate(-90 38.50 282.70)" dominant-baseline="central">0.0</text>
<line x1="42.80" y1="295.50" x2="45.30" y2="295.50" stroke="#707070" stroke-width="0.8"/>
<line x1="42.80" y1="308.30" x2="45.30" y2="308.30" stroke="#707070" stroke-width="0.8"/>
<text x="38.50" y="308.30" font-size="5.2" font-family="'Liberation Sans', Arial, Helvetica, sans-serif" fill="#222" text-anchor="middle" transform="rotate(-90 38.50 308.30)" dominant-baseline="central">−0.2</text>
<line x1="42.80" y1="321.10" x2="45.30" y2="321.10" stroke="#707070" stroke-width="0.8"/>
<line x1="42.80" y1="334.00" x2="45.30" y2="334.00" stroke="#707070" stroke-width="0.8"/>
<text x="38.50" y="334.00" font-size="5.2" font-family="'Liberation Sans', Arial, Helvetica, sans-serif" fill="#222" text-anchor="middle" transform="rotate(-90 38.50 334.00)" dominant-baseline="central">−0.4</text>
<text x="29.20" y="295.10" font-size="7.2" font-family="'Liberation Sans', Arial, Helvetica, sans-serif" fill="#222" text-anchor="middle" textLength="73.30" lengthAdjust="spacingAndGlyphs" transform="rotate(-90 29.20 295.10)" dominant-baseline="central">Enrichment score (ES)</text>
<line x1="48.50" y1="340.40" x2="48.50" y2="370.60" stroke="#000" stroke-width="1.0" stroke-opacity="1.0"/>
<line x1="50.30" y1="340.40" x2="50.30" y2="370.60" stroke="#000" stroke-width="1.0" stroke-opacity="0.65"/>
<line x1="52.80" y1="340.40" x2="52.80" y2="370.60" stroke="#000" stroke-width="1.0" stroke-opacity="0.65"/>
<line x1="55.80" y1="340.40" x2="55.80" y2="370.60" stroke="#000" stroke-width="1.0" stroke-opacity="0.65"/>
<line x1="58.20" y1="340.40" x2="58.20" y2="370.60" stroke="#000" stroke-width="1.0" stroke-opacity="1.0"/>
<line x1="60.70" y1="340.40" x2="60.70" y2="370.60" stroke="#000" stroke-width="1.0" stroke-opacity="0.65"/>
<line x1="62.50" y1="340.40" x2="62.50" y2="370.60" stroke="#000" stroke-width="1.0" stroke-opacity="0.65"/>
<line x1="65.60" y1="340.40" x2="65.60" y2="370.60" stroke="#000" stroke-width="1.0" stroke-opacity="1.0"/>
<line x1="67.40" y1="340.40" x2="67.40" y2="370.60" stroke="#000" stroke-width="1.0" stroke-opacity="0.65"/>
<line x1="69.20" y1="340.40" x2="69.20" y2="370.60" stroke="#000" stroke-width="1.0" stroke-opacity="0.65"/>
<line x1="72.30" y1="340.40" x2="72.30" y2="370.60" stroke="#000" stroke-width="1.0" stroke-opacity="0.65"/>
<line x1="75.30" y1="340.40" x2="75.30" y2="370.60" stroke="#000" stroke-width="1.0" stroke-opacity="1.0"/>
<line x1="77.80" y1="340.40" x2="77.80" y2="370.60" stroke="#000" stroke-width="1.0" stroke-opacity="1.0"/>
<line x1="79.60" y1="340.40" x2="79.60" y2="370.60" stroke="#000" stroke-width="1.0" stroke-opacity="0.65"/>
<line x1="82.00" y1="340.40" x2="82.00" y2="370.60" stroke="#000" stroke-width="1.0" stroke-opacity="0.65"/>
<line x1="83.50" y1="340.40" x2="83.50" y2="370.60" stroke="#000" stroke-width="1.0" stroke-opacity="0.65"/>
<line x1="85.00" y1="340.40" x2="85.00" y2="370.60" stroke="#000" stroke-width="1.0" stroke-opacity="0.65"/>
<line x1="86.50" y1="340.40" x2="86.50" y2="370.60" stroke="#000" stroke-width="1.0" stroke-opacity="0.65"/>
<line x1="88.00" y1="340.40" x2="88.00" y2="370.60" stroke="#000" stroke-width="1.0" stroke-opacity="0.65"/>
<line x1="91.20" y1="340.40" x2="91.20" y2="370.60" stroke="#000" stroke-width="1.0" stroke-opacity="0.65"/>
<line x1="94.20" y1="340.40" x2="94.20" y2="370.60" stroke="#000" stroke-width="1.0" stroke-opacity="1.0"/>
<line x1="96.70" y1="340.40" x2="96.70" y2="370.60" stroke="#000" stroke-width="1.0" stroke-opacity="0.65"/>
<line x1="99.70" y1="340.40" x2="99.70" y2="370.60" stroke="#000" stroke-width="1.0" stroke-opacity="0.65"/>
<line x1="102.10" y1="340.40" x2="102.10" y2="370.60" stroke="#000" stroke-width="1.0" stroke-opacity="0.65"/>
<line x1="104.60" y1="340.40" x2="104.60" y2="370.60" stroke="#000" stroke-width="1.0" stroke-opacity="0.65"/>
<line x1="107.00" y1="340.40" x2="107.00" y2="370.60" stroke="#000" stroke-width="1.0" stroke-opacity="1.0"/>
<line x1="106.60" y1="340.40" x2="106.60" y2="370.60" stroke="#000" stroke-width="1.0" stroke-opacity="1.0"/>
<line x1="108.50" y1="340.40" x2="108.50" y2="370.60" stroke="#000" stroke-width="1.0" stroke-opacity="0.65"/>
<line x1="111.70" y1="340.40" x2="111.70" y2="370.60" stroke="#000" stroke-width="1.0" stroke-opacity="0.65"/>
<line x1="114.30" y1="340.40" x2="114.30" y2="370.60" stroke="#000" stroke-width="1.0" stroke-opacity="1.0"/>
<line x1="118.70" y1="340.40" x2="118.70" y2="370.60" stroke="#000" stroke-width="1.0" stroke-opacity="0.65"/>
<line x1="120.60" y1="340.40" x2="120.60" y2="370.60" stroke="#000" stroke-width="1.0" stroke-opacity="1.0"/>
<line x1="123.80" y1="340.40" x2="123.80" y2="370.60" stroke="#000" stroke-width="1.0" stroke-opacity="0.65"/>
<line x1="126.40" y1="340.40" x2="126.40" y2="370.60" stroke="#000" stroke-width="1.0" stroke-opacity="0.65"/>
<line x1="129.50" y1="340.40" x2="129.50" y2="370.60" stroke="#000" stroke-width="1.0" stroke-opacity="1.0"/>
<line x1="132.10" y1="340.40" x2="132.10" y2="370.60" stroke="#000" stroke-width="1.0" stroke-opacity="0.65"/>
<line x1="134.60" y1="340.40" x2="134.60" y2="370.60" stroke="#000" stroke-width="1.0" stroke-opacity="0.65"/>
<line x1="137.20" y1="340.40" x2="137.20" y2="370.60" stroke="#000" stroke-width="1.0" stroke-opacity="1.0"/>
<line x1="139.10" y1="340.40" x2="139.10" y2="370.60" stroke="#000" stroke-width="1.0" stroke-opacity="0.65"/>
<line x1="142.90" y1="340.40" x2="142.90" y2="370.60" stroke="#000" stroke-width="1.0" stroke-opacity="0.65"/>
<line x1="146.50" y1="340.40" x2="146.50" y2="370.60" stroke="#000" stroke-width="1.0" stroke-opacity="1.0"/>
<line x1="149.90" y1="340.40" x2="149.90" y2="370.60" stroke="#000" stroke-width="1.0" stroke-opacity="0.65"/>
<line x1="153.70" y1="340.40" x2="153.70" y2="370.60" stroke="#000" stroke-width="1.0" stroke-opacity="0.65"/>
<line x1="156.90" y1="340.40" x2="156.90" y2="370.60" stroke="#000" stroke-width="1.0" stroke-opacity="1.0"/>
<line x1="159.40" y1="340.40" x2="159.40" y2="370.60" stroke="#000" stroke-width="1.0" stroke-opacity="0.65"/>
<line x1="161.30" y1="340.40" x2="161.30" y2="370.60" stroke="#000" stroke-width="1.0" stroke-opacity="1.0"/>
<line x1="164.50" y1="340.40" x2="164.50" y2="370.60" stroke="#000" stroke-width="1.0" stroke-opacity="0.65"/>
<line x1="167.10" y1="340.40" x2="167.10" y2="370.60" stroke="#000" stroke-width="1.0" stroke-opacity="0.65"/>
<line x1="169.60" y1="340.40" x2="169.60" y2="370.60" stroke="#000" stroke-width="1.0" stroke-opacity="0.65"/>
<line x1="172.20" y1="340.40" x2="172.20" y2="370.60" stroke="#000" stroke-width="1.0" stroke-opacity="1.0"/>
<line x1="174.70" y1="340.40" x2="174.70" y2="370.60" stroke="#000" stroke-width="1.0" stroke-opacity="1.0"/>
<line x1="175.40" y1="340.40" x2="175.40" y2="370.60" stroke="#000" stroke-width="1.0" stroke-opacity="0.65"/>
<line x1="178.70" y1="340.40" x2="178.70" y2="370.60" stroke="#000" stroke-width="1.0" stroke-opacity="1.0"/>
<line x1="181.40" y1="340.40" x2="181.40" y2="370.60" stroke="#000" stroke-width="1.0" stroke-opacity="0.65"/>
<line x1="184.10" y1="340.40" x2="184.10" y2="370.60" stroke="#000" stroke-width="1.0" stroke-opacity="0.65"/>
<line x1="188.00" y1="340.40" x2="188.00" y2="370.60" stroke="#000" stroke-width="1.0" stroke-opacity="0.65"/>
<line x1="189.40" y1="340.40" x2="189.40" y2="370.60" stroke="#000" stroke-width="1.0" stroke-opacity="0.65"/>
<line x1="190.80" y1="340.40" x2="190.80" y2="370.60" stroke="#000" stroke-width="1.0" stroke-opacity="0.65"/>
<line x1="192.90" y1="340.40" x2="192.90" y2="370.60" stroke="#000" stroke-width="1.0" stroke-opacity="0.65"/>
<line x1="196.20" y1="340.40" x2="196.20" y2="370.60" stroke="#000" stroke-width="1.0" stroke-opacity="0.65"/>
<line x1="198.90" y1="340.40" x2="198.90" y2="370.60" stroke="#000" stroke-width="1.0" stroke-opacity="0.65"/>
<line x1="201.30" y1="340.40" x2="201.30" y2="370.60" stroke="#000" stroke-width="1.0" stroke-opacity="1.0"/>
<line x1="205.00" y1="340.40" x2="205.00" y2="370.60" stroke="#000" stroke-width="1.0" stroke-opacity="0.65"/>
<line x1="208.30" y1="340.40" x2="208.30" y2="370.60" stroke="#000" stroke-width="1.0" stroke-opacity="0.65"/>
<line x1="211.70" y1="340.40" x2="211.70" y2="370.60" stroke="#000" stroke-width="1.0" stroke-opacity="0.65"/>
<line x1="215.10" y1="340.40" x2="215.10" y2="370.60" stroke="#000" stroke-width="1.0" stroke-opacity="1.0"/>
<line x1="217.80" y1="340.40" x2="217.80" y2="370.60" stroke="#000" stroke-width="1.0" stroke-opacity="1.0"/>
<line x1="221.10" y1="340.40" x2="221.10" y2="370.60" stroke="#000" stroke-width="1.0" stroke-opacity="0.65"/>
<line x1="223.80" y1="340.40" x2="223.80" y2="370.60" stroke="#000" stroke-width="1.0" stroke-opacity="0.65"/>
<line x1="226.50" y1="340.40" x2="226.50" y2="370.60" stroke="#000" stroke-width="1.0" stroke-opacity="1.0"/>
<line x1="229.20" y1="340.40" x2="229.20" y2="370.60" stroke="#000" stroke-width="1.0" stroke-opacity="0.65"/>
<line x1="232.60" y1="340.40" x2="232.60" y2="370.60" stroke="#000" stroke-width="1.0" stroke-opacity="1.0"/>
<line x1="233.90" y1="340.40" x2="233.90" y2="370.60" stroke="#000" stroke-width="1.0" stroke-opacity="0.65"/>
<line x1="235.20" y1="340.40" x2="235.20" y2="370.60" stroke="#000" stroke-width="1.0" stroke-opacity="1.0"/>
<line x1="236.50" y1="340.40" x2="236.50" y2="370.60" stroke="#000" stroke-width="1.0" stroke-opacity="0.65"/>
<line x1="237.80" y1="340.40" x2="237.80" y2="370.60" stroke="#000" stroke-width="1.0" stroke-opacity="1.0"/>
<defs><linearGradient id="gc" x1="0" x2="1" y1="0" y2="0"><stop offset="0.000" stop-color="#6b4a20"/><stop offset="-0.006" stop-color="#6b4a20"/><stop offset="0.031" stop-color="#c84848"/><stop offset="0.118" stop-color="#c84848"/><stop offset="0.155" stop-color="#dc7070"/><stop offset="0.165" stop-color="#dc7070"/><stop offset="0.202" stop-color="#e8a0a0"/><stop offset="0.243" stop-color="#e8a0a0"/><stop offset="0.280" stop-color="#f0c8c0"/><stop offset="0.308" stop-color="#f0c8c0"/><stop offset="0.345" stop-color="#f8e0e0"/><stop offset="0.574" stop-color="#f8e0e0"/><stop offset="0.610" stop-color="#e4e4f8"/><stop offset="0.670" stop-color="#e4e4f8"/><stop offset="0.707" stop-color="#c0c0f0"/><stop offset="0.748" stop-color="#c0c0f0"/><stop offset="0.785" stop-color="#8888e8"/><stop offset="0.827" stop-color="#8888e8"/><stop offset="0.863" stop-color="#4040d8"/><stop offset="0.905" stop-color="#4040d8"/><stop offset="0.941" stop-color="#1818c8"/><stop offset="1.000" stop-color="#1818c8"/></linearGradient></defs>
<rect x="45.80" y="370.60" width="192.00" height="5.70" fill="url(#gc)"/>
<defs><linearGradient id="pc" x1="0" x2="1"><stop offset="0" stop-color="#f0609f" stop-opacity="0.85"/><stop offset="0.6" stop-color="#f0609f" stop-opacity="0.6"/><stop offset="1" stop-color="#f0609f" stop-opacity="0"/></linearGradient></defs>
<rect x="45.30" y="369.00" width="70.00" height="1.80" fill="url(#pc)"/>
<rect x="32.00" y="368.60" width="13.30" height="9.70" fill="#fdeef6" opacity="0.9"/>
<path d="M45.60,408.50 L45.60,395.64 L46.60,397.48 L48.60,399.31 L51.60,400.78 L55.10,402.03 L59.60,403.21 L67.60,404.60 L79.60,405.93 L95.60,407.18 L109.60,407.91 L117.90,408.50 L140.00,408.65 L170.00,408.87 L185.00,409.97 L199.00,411.59 L210.00,412.91 L221.00,414.67 L228.00,415.85 L231.50,416.88 L234.50,418.79 L236.50,421.73 L237.80,427.61 L238.60,437.90 L238.60,408.50 Z" fill="#cfcfcf" stroke="none"/>
<line x1="117.00" y1="376.30" x2="117.00" y2="440.00" stroke="#ebebeb" stroke-width="0.8"/>
<text x="96.10" y="407.20" font-size="8.0" font-family="'Liberation Sans', Arial, Helvetica, sans-serif" fill="#1a1a1a" textLength="63.40" lengthAdjust="spacingAndGlyphs">Zero cross at 18461</text>
<line x1="42.80" y1="379.10" x2="45.30" y2="379.10" stroke="#707070" stroke-width="0.8"/>
<text x="38.50" y="379.10" font-size="5.2" font-family="'Liberation Sans', Arial, Helvetica, sans-serif" fill="#222" text-anchor="middle" transform="rotate(-90 38.50 379.10)" dominant-baseline="central">4</text>
<line x1="42.80" y1="393.80" x2="45.30" y2="393.80" stroke="#707070" stroke-width="0.8"/>
<text x="38.50" y="393.80" font-size="5.2" font-family="'Liberation Sans', Arial, Helvetica, sans-serif" fill="#222" text-anchor="middle" transform="rotate(-90 38.50 393.80)" dominant-baseline="central">2</text>
<line x1="42.80" y1="408.50" x2="45.30" y2="408.50" stroke="#707070" stroke-width="0.8"/>
<text x="38.50" y="408.50" font-size="5.2" font-family="'Liberation Sans', Arial, Helvetica, sans-serif" fill="#222" text-anchor="middle" transform="rotate(-90 38.50 408.50)" dominant-baseline="central">0</text>
<line x1="42.80" y1="423.20" x2="45.30" y2="423.20" stroke="#707070" stroke-width="0.8"/>
<text x="38.50" y="423.20" font-size="5.2" font-family="'Liberation Sans', Arial, Helvetica, sans-serif" fill="#222" text-anchor="middle" transform="rotate(-90 38.50 423.20)" dominant-baseline="central">−2</text>
<line x1="42.80" y1="437.90" x2="45.30" y2="437.90" stroke="#707070" stroke-width="0.8"/>
<text x="38.50" y="437.90" font-size="5.2" font-family="'Liberation Sans', Arial, Helvetica, sans-serif" fill="#222" text-anchor="middle" transform="rotate(-90 38.50 437.90)" dominant-baseline="central">−4</text>
<text x="29.20" y="408.10" font-size="7.2" font-family="'Liberation Sans', Arial, Helvetica, sans-serif" fill="#222" text-anchor="middle" textLength="24.50" lengthAdjust="spacingAndGlyphs" transform="rotate(-90 29.20 408.10)" dominant-baseline="central">SCORE</text>
<line x1="84.20" y1="440.00" x2="84.20" y2="442.00" stroke="#707070" stroke-width="0.8"/>
<text x="84.20" y="447.80" font-size="5.0" font-family="'Liberation Sans', Arial, Helvetica, sans-serif" fill="#222" text-anchor="middle" textLength="14.00" lengthAdjust="spacingAndGlyphs">10000</text>
<line x1="123.20" y1="440.00" x2="123.20" y2="442.00" stroke="#707070" stroke-width="0.8"/>
<text x="123.20" y="447.80" font-size="5.0" font-family="'Liberation Sans', Arial, Helvetica, sans-serif" fill="#222" text-anchor="middle" textLength="14.00" lengthAdjust="spacingAndGlyphs">20000</text>
<line x1="162.20" y1="440.00" x2="162.20" y2="442.00" stroke="#707070" stroke-width="0.8"/>
<text x="162.20" y="447.80" font-size="5.0" font-family="'Liberation Sans', Arial, Helvetica, sans-serif" fill="#222" text-anchor="middle" textLength="14.00" lengthAdjust="spacingAndGlyphs">30000</text>
<line x1="201.20" y1="440.00" x2="201.20" y2="442.00" stroke="#707070" stroke-width="0.8"/>
<text x="201.20" y="447.80" font-size="5.0" font-family="'Liberation Sans', Arial, Helvetica, sans-serif" fill="#222" text-anchor="middle" textLength="14.00" lengthAdjust="spacingAndGlyphs">40000</text>
<line x1="240.20" y1="440.00" x2="240.20" y2="442.00" stroke="#707070" stroke-width="0.8"/>
<text x="240.20" y="447.80" font-size="5.0" font-family="'Liberation Sans', Arial, Helvetica, sans-serif" fill="#222" text-anchor="middle" textLength="14.00" lengthAdjust="spacingAndGlyphs">50000</text>
<text x="143.90" y="456.50" font-size="6.9" font-family="'Liberation Sans', Arial, Helvetica, sans-serif" fill="#1a1a1a" text-anchor="middle" textLength="80.40" lengthAdjust="spacingAndGlyphs">Rank in ordered gene list</text>
<g fill="none" stroke="#707070" stroke-width="0.9">
<rect x="45.30" y="251.40" width="197.10" height="89.00"/>
<rect x="45.30" y="340.40" width="197.10" height="35.90"/>
<rect x="45.30" y="376.30" width="197.10" height="63.70"/>
<line x1="45.30" y1="370.60" x2="242.40" y2="370.60" stroke-width="0.6"/>
</g>
<text x="47.80" y="374.70" font-size="2.6" font-family="'Liberation Sans', Arial, Helvetica, sans-serif" fill="#5a1010" textLength="12.00" lengthAdjust="spacingAndGlyphs" class="s">Positive</text>
<text x="235.80" y="374.70" font-size="2.6" font-family="'Liberation Sans', Arial, Helvetica, sans-serif" fill="#10105a" text-anchor="end" textLength="12.00" lengthAdjust="spacingAndGlyphs" class="s">Negative</text>
<text x="303.00" y="247.50" font-size="14.5" font-family="'Liberation Serif', 'Times New Roman', serif" fill="#111" font-weight="bold" textLength="16.80" lengthAdjust="spacingAndGlyphs">(d)</text>
<text x="438.90" y="245.40" font-size="7.8" font-family="'Liberation Sans', Arial, Helvetica, sans-serif" fill="#111" text-anchor="middle" font-weight="bold" textLength="175.10" lengthAdjust="spacingAndGlyphs">Enrichment plot:KO04712 Circadian rhythm − plant</text>
<line x1="339.40" y1="289.50" x2="537.80" y2="289.50" stroke="#aaaaaa" stroke-width="0.8" stroke-dasharray="1.2,1.6"/>
<polyline points="339.80,289.70 339.80,280.20 341.20,274.60 342.70,268.00 344.60,267.00 346.10,263.20 348.00,261.30 351.20,261.70 355.90,263.60 361.60,266.10 365.40,266.60 371.00,268.00 380.50,271.70 386.10,273.60 397.50,277.40 403.20,280.20 418.30,288.80 436.00,297.30 454.90,306.70 473.80,316.20 488.90,323.70 498.40,327.10 505.00,328.40 510.70,329.00 512.60,326.60 515.40,326.60 520.10,327.90 524.80,324.70 528.60,319.60 530.50,317.10 532.40,312.40 533.90,302.90 534.30,288.80" fill="none" stroke="#33e633" stroke-width="2.2" stroke-linejoin="round" stroke-linecap="round"/>
<text x="341.60" y="319.00" font-size="5.2" font-family="'Liberation Sans', Arial, Helvetica, sans-serif" fill="#1a1a1a" textLength="68.40" lengthAdjust="spacingAndGlyphs" class="s">Nominal p−value: 0.0684808</text>
<text x="341.60" y="325.30" font-size="5.2" font-family="'Liberation Sans', Arial, Helvetica, sans-serif" fill="#1a1a1a" textLength="39.30" lengthAdjust="spacingAndGlyphs" class="s">FDR: 0.3185952</text>
<text x="341.60" y="331.30" font-size="5.2" font-family="'Liberation Sans', Arial, Helvetica, sans-serif" fill="#1a1a1a" textLength="40.00" lengthAdjust="spacingAndGlyphs" class="s">ES: −0.40869865</text>
<text x="341.60" y="337.60" font-size="5.2" font-family="'Liberation Sans', Arial, Helvetica, sans-serif" fill="#1a1a1a" textLength="68.40" lengthAdjust="spacingAndGlyphs" class="s">Normalized ES: −1.2571484</text>
<line x1="336.90" y1="269.50" x2="339.40" y2="269.50" stroke="#707070" stroke-width="0.8"/>
<text x="333.50" y="269.50" font-size="5.2" font-family="'Liberation Sans', Arial, Helvetica, sans-serif" fill="#222" text-anchor="middle" transform="rotate(-90 333.50 269.50)" dominant-baseline="central">0.2</text>
<line x1="336.90" y1="289.50" x2="339.40" y2="289.50" stroke="#707070" stroke-width="0.8"/>
<text x="333.50" y="289.50" font-size="5.2" font-family="'Liberation Sans', Arial, Helvetica, sans-serif" fill="#222" text-anchor="middle" transform="rotate(-90 333.50 289.50)" dominant-baseline="central">0.0</text>
<line x1="336.90" y1="309.60" x2="339.40" y2="309.60" stroke="#707070" stroke-width="0.8"/>
<text x="333.50" y="309.60" font-size="5.2" font-family="'Liberation Sans', Arial, Helvetica, sans-serif" fill="#222" text-anchor="middle" transform="rotate(-90 333.50 309.60)" dominant-baseline="central">−0.2</text>
<line x1="336.90" y1="329.60" x2="339.40" y2="329.60" stroke="#707070" stroke-width="0.8"/>
<text x="333.50" y="329.60" font-size="5.2" font-family="'Liberation Sans', Arial, Helvetica, sans-serif" fill="#222" text-anchor="middle" transform="rotate(-90 333.50 329.60)" dominant-baseline="central">−0.4</text>
<text x="323.50" y="294.80" font-size="7.2" font-family="'Liberation Sans', Arial, Helvetica, sans-serif" fill="#222" text-anchor="middle" textLength="72.50" lengthAdjust="spacingAndGlyphs" transform="rotate(-90 323.50 294.80)" dominant-baseline="central">Enrichment score (ES)</text>
<line x1="340.60" y1="339.10" x2="340.60" y2="369.40" stroke="#000" stroke-width="1.0" stroke-opacity="0.9774999999999999"/>
<line x1="342.70" y1="339.10" x2="342.70" y2="369.40" stroke="#000" stroke-width="1.0" stroke-opacity="0.9774999999999999"/>
<line x1="344.00" y1="339.10" x2="344.00" y2="369.40" stroke="#000" stroke-width="1.0" stroke-opacity="0.575"/>
<line x1="345.00" y1="339.10" x2="345.00" y2="369.40" stroke="#000" stroke-width="1.0" stroke-opacity="0.575"/>
<line x1="346.00" y1="339.10" x2="346.00" y2="369.40" stroke="#000" stroke-width="1.0" stroke-opacity="0.575"/>
<line x1="347.20" y1="339.10" x2="347.20" y2="369.40" stroke="#000" stroke-width="1.0" stroke-opacity="0.575"/>
<line x1="352.90" y1="339.10" x2="352.90" y2="369.40" stroke="#000" stroke-width="1.0" stroke-opacity="0.575"/>
<line x1="362.40" y1="339.10" x2="362.40" y2="369.40" stroke="#000" stroke-width="1.0" stroke-opacity="0.575"/>
<line x1="363.70" y1="339.10" x2="363.70" y2="369.40" stroke="#000" stroke-width="1.0" stroke-opacity="0.575"/>
<line x1="367.50" y1="339.10" x2="367.50" y2="369.40" stroke="#000" stroke-width="1.0" stroke-opacity="0.575"/>
<line x1="369.40" y1="339.10" x2="369.40" y2="369.40" stroke="#000" stroke-width="1.0" stroke-opacity="0.575"/>
<line x1="378.30" y1="339.10" x2="378.30" y2="369.40" stroke="#000" stroke-width="1.0" stroke-opacity="0.575"/>
<line x1="382.20" y1="339.10" x2="382.20" y2="369.40" stroke="#000" stroke-width="1.0" stroke-opacity="0.575"/>
<line x1="385.30" y1="339.10" x2="385.30" y2="369.40" stroke="#000" stroke-width="1.0" stroke-opacity="0.575"/>
<line x1="389.20" y1="339.10" x2="389.20" y2="369.40" stroke="#000" stroke-width="1.0" stroke-opacity="0.9774999999999999"/>
<line x1="391.10" y1="339.10" x2="391.10" y2="369.40" stroke="#000" stroke-width="1.0" stroke-opacity="0.9774999999999999"/>
<line x1="395.50" y1="339.10" x2="395.50" y2="369.40" stroke="#000" stroke-width="1.0" stroke-opacity="0.575"/>
<line x1="396.80" y1="339.10" x2="396.80" y2="369.40" stroke="#000" stroke-width="1.0" stroke-opacity="0.575"/>
<line x1="398.00" y1="339.10" x2="398.00" y2="369.40" stroke="#000" stroke-width="1.0" stroke-opacity="0.575"/>
<line x1="399.30" y1="339.10" x2="399.30" y2="369.40" stroke="#000" stroke-width="1.0" stroke-opacity="0.575"/>
<line x1="410.60" y1="339.10" x2="410.60" y2="369.40" stroke="#000" stroke-width="1.0" stroke-opacity="0.575"/>
<line x1="412.50" y1="339.10" x2="412.50" y2="369.40" stroke="#000" stroke-width="1.0" stroke-opacity="0.9774999999999999"/>
<line x1="420.80" y1="339.10" x2="420.80" y2="369.40" stroke="#000" stroke-width="1.0" stroke-opacity="0.9774999999999999"/>
<line x1="422.10" y1="339.10" x2="422.10" y2="369.40" stroke="#000" stroke-width="1.0" stroke-opacity="0.575"/>
<line x1="424.60" y1="339.10" x2="424.60" y2="369.40" stroke="#000" stroke-width="1.0" stroke-opacity="0.575"/>
<line x1="434.80" y1="339.10" x2="434.80" y2="369.40" stroke="#000" stroke-width="1.0" stroke-opacity="0.575"/>
<line x1="437.40" y1="339.10" x2="437.40" y2="369.40" stroke="#000" stroke-width="1.0" stroke-opacity="0.9774999999999999"/>
<line x1="440.20" y1="339.10" x2="440.20" y2="369.40" stroke="#000" stroke-width="1.0" stroke-opacity="0.575"/>
<line x1="453.90" y1="339.10" x2="453.90" y2="369.40" stroke="#000" stroke-width="1.0" stroke-opacity="0.345"/>
<line x1="457.10" y1="339.10" x2="457.10" y2="369.40" stroke="#000" stroke-width="1.0" stroke-opacity="1.0"/>
<line x1="464.70" y1="339.10" x2="464.70" y2="369.40" stroke="#000" stroke-width="1.0" stroke-opacity="0.575"/>
<line x1="474.70" y1="339.10" x2="474.70" y2="369.40" stroke="#000" stroke-width="1.0" stroke-opacity="0.575"/>
<line x1="488.90" y1="339.10" x2="488.90" y2="369.40" stroke="#000" stroke-width="1.0" stroke-opacity="0.575"/>
<line x1="492.90" y1="339.10" x2="492.90" y2="369.40" stroke="#000" stroke-width="1.0" stroke-opacity="0.575"/>
<line x1="498.30" y1="339.10" x2="498.30" y2="369.40" stroke="#000" stroke-width="1.0" stroke-opacity="0.575"/>
<line x1="500.30" y1="339.10" x2="500.30" y2="369.40" stroke="#000" stroke-width="1.0" stroke-opacity="0.575"/>
<line x1="505.70" y1="339.10" x2="505.70" y2="369.40" stroke="#000" stroke-width="1.0" stroke-opacity="0.575"/>
<line x1="507.70" y1="339.10" x2="507.70" y2="369.40" stroke="#000" stroke-width="1.0" stroke-opacity="0.575"/>
<line x1="512.40" y1="339.10" x2="512.40" y2="369.40" stroke="#000" stroke-width="1.0" stroke-opacity="1.0"/>
<line x1="514.40" y1="339.10" x2="514.40" y2="369.40" stroke="#000" stroke-width="1.0" stroke-opacity="0.575"/>
<line x1="519.80" y1="339.10" x2="519.80" y2="369.40" stroke="#000" stroke-width="1.0" stroke-opacity="0.575"/>
<line x1="521.30" y1="339.10" x2="521.30" y2="369.40" stroke="#000" stroke-width="1.0" stroke-opacity="0.575"/>
<line x1="522.80" y1="339.10" x2="522.80" y2="369.40" stroke="#000" stroke-width="1.0" stroke-opacity="0.575"/>
<line x1="524.30" y1="339.10" x2="524.30" y2="369.40" stroke="#000" stroke-width="1.0" stroke-opacity="0.575"/>
<line x1="525.80" y1="339.10" x2="525.80" y2="369.40" stroke="#000" stroke-width="1.0" stroke-opacity="0.575"/>
<line x1="527.20" y1="339.10" x2="527.20" y2="369.40" stroke="#000" stroke-width="1.0" stroke-opacity="0.575"/>
<line x1="529.90" y1="339.10" x2="529.90" y2="369.40" stroke="#000" stroke-width="1.0" stroke-opacity="0.9774999999999999"/>
<line x1="531.20" y1="339.10" x2="531.20" y2="369.40" stroke="#000" stroke-width="1.0" stroke-opacity="0.9774999999999999"/>
<line x1="532.60" y1="339.10" x2="532.60" y2="369.40" stroke="#000" stroke-width="1.0" stroke-opacity="0.9774999999999999"/>
<line x1="534.00" y1="339.10" x2="534.00" y2="369.40" stroke="#000" stroke-width="1.0" stroke-opacity="0.9774999999999999"/>
<defs><linearGradient id="gd" x1="0" x2="1" y1="0" y2="0"><stop offset="0.000" stop-color="#c83c30"/><stop offset="0.126" stop-color="#c83c30"/><stop offset="0.162" stop-color="#e08878"/><stop offset="0.209" stop-color="#e08878"/><stop offset="0.245" stop-color="#ecb0a8"/><stop offset="0.286" stop-color="#ecb0a8"/><stop offset="0.322" stop-color="#f6dcdc"/><stop offset="0.587" stop-color="#f6dcdc"/><stop offset="0.623" stop-color="#e0e0f8"/><stop offset="0.673" stop-color="#e0e0f8"/><stop offset="0.709" stop-color="#a8a8f0"/><stop offset="0.755" stop-color="#a8a8f0"/><stop offset="0.791" stop-color="#5858e4"/><stop offset="0.827" stop-color="#5858e4"/><stop offset="0.863" stop-color="#3434dc"/><stop offset="0.874" stop-color="#3434dc"/><stop offset="0.910" stop-color="#1c1cd0"/><stop offset="1.000" stop-color="#1c1cd0"/></linearGradient></defs>
<rect x="340.00" y="369.40" width="194.00" height="6.10" fill="url(#gd)"/>
<defs><linearGradient id="pd" x1="0" x2="1"><stop offset="0" stop-color="#f0609f" stop-opacity="0.85"/><stop offset="0.6" stop-color="#f0609f" stop-opacity="0.6"/><stop offset="1" stop-color="#f0609f" stop-opacity="0"/></linearGradient></defs>
<rect x="339.40" y="368.40" width="140.00" height="1.60" fill="url(#pd)"/>
<rect x="336.80" y="367.40" width="2.60" height="10.10" fill="#fdeef6" opacity="0.9"/>
<path d="M339.80,407.50 L339.80,394.76 L340.80,396.58 L342.80,398.40 L345.80,399.86 L349.30,401.09 L353.80,402.26 L361.80,403.64 L373.80,404.95 L389.80,406.19 L403.80,406.92 L412.10,407.50 L434.00,407.65 L464.00,407.86 L480.00,408.96 L494.00,410.56 L505.00,411.87 L516.00,413.62 L523.00,414.78 L527.50,415.80 L530.50,417.69 L532.50,420.60 L533.80,426.43 L534.60,436.26 L534.60,407.50 Z" fill="#cfcfcf" stroke="none"/>
<line x1="412.50" y1="375.50" x2="412.50" y2="438.20" stroke="#ebebeb" stroke-width="0.8"/>
<text x="390.80" y="405.90" font-size="8.0" font-family="'Liberation Sans', Arial, Helvetica, sans-serif" fill="#1a1a1a" textLength="62.60" lengthAdjust="spacingAndGlyphs">Zero cross at 18461</text>
<line x1="336.90" y1="378.38" x2="339.40" y2="378.38" stroke="#707070" stroke-width="0.8"/>
<text x="333.50" y="378.38" font-size="5.2" font-family="'Liberation Sans', Arial, Helvetica, sans-serif" fill="#222" text-anchor="middle" transform="rotate(-90 333.50 378.38)" dominant-baseline="central">4</text>
<line x1="336.90" y1="392.94" x2="339.40" y2="392.94" stroke="#707070" stroke-width="0.8"/>
<text x="333.50" y="392.94" font-size="5.2" font-family="'Liberation Sans', Arial, Helvetica, sans-serif" fill="#222" text-anchor="middle" transform="rotate(-90 333.50 392.94)" dominant-baseline="central">2</text>
<line x1="336.90" y1="407.50" x2="339.40" y2="407.50" stroke="#707070" stroke-width="0.8"/>
<text x="333.50" y="407.50" font-size="5.2" font-family="'Liberation Sans', Arial, Helvetica, sans-serif" fill="#222" text-anchor="middle" transform="rotate(-90 333.50 407.50)" dominant-baseline="central">0</text>
<line x1="336.90" y1="422.06" x2="339.40" y2="422.06" stroke="#707070" stroke-width="0.8"/>
<text x="333.50" y="422.06" font-size="5.2" font-family="'Liberation Sans', Arial, Helvetica, sans-serif" fill="#222" text-anchor="middle" transform="rotate(-90 333.50 422.06)" dominant-baseline="central">−2</text>
<line x1="336.90" y1="436.62" x2="339.40" y2="436.62" stroke="#707070" stroke-width="0.8"/>
<text x="333.50" y="436.62" font-size="5.2" font-family="'Liberation Sans', Arial, Helvetica, sans-serif" fill="#222" text-anchor="middle" transform="rotate(-90 333.50 436.62)" dominant-baseline="central">−4</text>
<text x="323.50" y="406.90" font-size="7.2" font-family="'Liberation Sans', Arial, Helvetica, sans-serif" fill="#222" text-anchor="middle" textLength="24.50" lengthAdjust="spacingAndGlyphs" transform="rotate(-90 323.50 406.90)" dominant-baseline="central">SCORE</text>
<line x1="379.10" y1="438.20" x2="379.10" y2="440.20" stroke="#707070" stroke-width="0.8"/>
<text x="379.10" y="446.40" font-size="5.0" font-family="'Liberation Sans', Arial, Helvetica, sans-serif" fill="#222" text-anchor="middle" textLength="14.00" lengthAdjust="spacingAndGlyphs">10000</text>
<line x1="418.20" y1="438.20" x2="418.20" y2="440.20" stroke="#707070" stroke-width="0.8"/>
<text x="418.20" y="446.40" font-size="5.0" font-family="'Liberation Sans', Arial, Helvetica, sans-serif" fill="#222" text-anchor="middle" textLength="14.00" lengthAdjust="spacingAndGlyphs">20000</text>
<line x1="457.30" y1="438.20" x2="457.30" y2="440.20" stroke="#707070" stroke-width="0.8"/>
<text x="457.30" y="446.40" font-size="5.0" font-family="'Liberation Sans', Arial, Helvetica, sans-serif" fill="#222" text-anchor="middle" textLength="14.00" lengthAdjust="spacingAndGlyphs">30000</text>
<line x1="496.40" y1="438.20" x2="496.40" y2="440.20" stroke="#707070" stroke-width="0.8"/>
<text x="496.40" y="446.40" font-size="5.0" font-family="'Liberation Sans', Arial, Helvetica, sans-serif" fill="#222" text-anchor="middle" textLength="14.00" lengthAdjust="spacingAndGlyphs">40000</text>
<line x1="535.50" y1="438.20" x2="535.50" y2="440.20" stroke="#707070" stroke-width="0.8"/>
<text x="535.50" y="446.40" font-size="5.0" font-family="'Liberation Sans', Arial, Helvetica, sans-serif" fill="#222" text-anchor="middle" textLength="14.00" lengthAdjust="spacingAndGlyphs">50000</text>
<text x="439.10" y="454.50" font-size="6.9" font-family="'Liberation Sans', Arial, Helvetica, sans-serif" fill="#1a1a1a" text-anchor="middle" textLength="80.80" lengthAdjust="spacingAndGlyphs">Rank in ordered gene list</text>
<g fill="none" stroke="#707070" stroke-width="0.9">
<rect x="339.40" y="251.20" width="198.40" height="87.90"/>
<rect x="339.40" y="339.10" width="198.40" height="36.40"/>
<rect x="339.40" y="375.50" width="198.40" height="62.70"/>
<line x1="339.40" y1="369.40" x2="537.80" y2="369.40" stroke-width="0.6"/>
</g>
<text x="342.00" y="373.90" font-size="2.6" font-family="'Liberation Sans', Arial, Helvetica, sans-serif" fill="#5a1010" textLength="12.00" lengthAdjust="spacingAndGlyphs" class="s">Positive</text>
<text x="532.00" y="373.90" font-size="2.6" font-family="'Liberation Sans', Arial, Helvetica, sans-serif" fill="#10105a" text-anchor="end" textLength="12.00" lengthAdjust="spacingAndGlyphs" class="s">Negative</text>
<text x="14.70" y="485.60" font-size="14.5" font-family="'Liberation Serif', 'Times New Roman', serif" fill="#111" font-weight="bold" textLength="14.30" lengthAdjust="spacingAndGlyphs">(e)</text>
<text x="152.35" y="481.60" font-size="7.4" font-family="'Liberation Sans', Arial, Helvetica, sans-serif" fill="#111" text-anchor="middle" font-weight="bold" textLength="150.90" lengthAdjust="spacingAndGlyphs">Enrichment plot:KO00250 Alanine, aspartate</text>
<text x="152.20" y="489.60" font-size="7.4" font-family="'Liberation Sans', Arial, Helvetica, sans-serif" fill="#111" text-anchor="middle" font-weight="bold" textLength="89.70" lengthAdjust="spacingAndGlyphs">and glutamate metabolism</text>
<rect x="55.5" y="504.6666666666667" width="16.0" height="21.63333333333327" fill="#fef3f9"/>
<rect x="71.5" y="497.875" width="16.0" height="14.791666666666742" fill="#fef3f9"/>
<rect x="87.5" y="500.22666666666663" width="16.0" height="10.173333333333346" fill="#fef3f9"/>
<rect x="103.5" y="502.4" width="16.0" height="15.982926829268308" fill="#fef3f9"/>
<rect x="119.5" y="510.3829268292683" width="16.0" height="18.291248994907505" fill="#fef3f9"/>
<rect x="135.5" y="520.6741758241758" width="16.0" height="18.109890109890216" fill="#fef3f9"/>
<rect x="151.5" y="530.784065934066" width="16.0" height="18.864054366685878" fill="#fef3f9"/>
<rect x="167.5" y="541.6481203007519" width="16.0" height="16.91117173464636" fill="#fef3f9"/>
<rect x="183.5" y="550.5592920353982" width="16.0" height="13.483865859338607" fill="#fef3f9"/>
<rect x="199.5" y="556.0431578947369" width="16.0" height="11.221052631578914" fill="#fef3f9"/>
<rect x="215.5" y="558.9272727272727" width="16.0" height="14.590034965034988" fill="#fef3f9"/>
<rect x="231.5" y="560.7" width="16.0" height="13.019230769230717" fill="#fef3f9"/>
<rect x="247.5" y="560.7" width="2.0" height="8.0" fill="#fef3f9"/>
<line x1="54.20" y1="565.30" x2="250.50" y2="565.30" stroke="#c0b4b8" stroke-width="0.8" stroke-dasharray="1.2,1.6"/>
<polyline points="54.20,564.50 54.70,522.70 56.50,521.80 58.90,520.50 60.70,516.40 63.80,515.80 65.10,513.30 66.50,511.80 68.40,510.40 70.20,509.10 72.90,508.20 75.30,508.50 77.50,503.60 80.20,501.80 83.80,502.70 89.30,505.50 91.10,504.20 95.60,504.50 98.40,505.50 102.00,505.50 106.50,508.20 112.00,511.80 116.50,512.70 124.70,517.30 133.80,523.60 152.00,535.10 163.20,542.90 176.50,551.40 187.80,556.50 193.50,557.10 199.10,559.90 208.60,563.30 210.50,562.20 215.20,562.80 221.80,565.60 232.20,569.80 235.10,567.50 238.80,567.50 246.40,564.70" fill="none" stroke="#5a3510" stroke-width="1.75" stroke-linejoin="round" stroke-linecap="round"/>
<polyline points="54.20,564.50 54.70,522.70 56.50,521.80 58.90,520.50 60.70,516.40 63.80,515.80 65.10,513.30 66.50,511.80 68.40,510.40 70.20,509.10 72.90,508.20 75.30,508.50 77.50,503.60 80.20,501.80 83.80,502.70 89.30,505.50 91.10,504.20 95.60,504.50 98.40,505.50 102.00,505.50 106.50,508.20 112.00,511.80 116.50,512.70 124.70,517.30 133.80,523.60 152.00,535.10 163.20,542.90 176.50,551.40 187.80,556.50 193.50,557.10 199.10,559.90 208.60,563.30 210.50,562.20 215.20,562.80 221.80,565.60 232.20,569.80 235.10,567.50 238.80,567.50 246.40,564.70" fill="none" stroke="#8a4a12" stroke-width="0.95" stroke-linejoin="round" stroke-linecap="round"/>
<text x="243.20" y="497.80" font-size="5.2" font-family="'Liberation Sans', Arial, Helvetica, sans-serif" fill="#1a1a1a" text-anchor="end" textLength="46.40" lengthAdjust="spacingAndGlyphs" class="s">Nominal p−value: 0</text>
<text x="243.20" y="504.30" font-size="5.2" font-family="'Liberation Sans', Arial, Helvetica, sans-serif" fill="#1a1a1a" text-anchor="end" textLength="45.70" lengthAdjust="spacingAndGlyphs" class="s">FDR: 0.041085724</text>
<text x="243.20" y="510.50" font-size="5.2" font-family="'Liberation Sans', Arial, Helvetica, sans-serif" fill="#1a1a1a" text-anchor="end" textLength="38.90" lengthAdjust="spacingAndGlyphs" class="s">ES: 0.49795324</text>
<text x="243.20" y="516.60" font-size="5.2" font-family="'Liberation Sans', Arial, Helvetica, sans-serif" fill="#1a1a1a" text-anchor="end" textLength="64.10" lengthAdjust="spacingAndGlyphs" class="s">Normalized ES: 1.6187892</text>
<line x1="51.70" y1="501.50" x2="54.20" y2="501.50" stroke="#707070" stroke-width="0.8"/>
<text x="48.50" y="501.50" font-size="5.2" font-family="'Liberation Sans', Arial, Helvetica, sans-serif" fill="#222" text-anchor="middle" transform="rotate(-90 48.50 501.50)" dominant-baseline="central">0.5</text>
<line x1="51.70" y1="514.30" x2="54.20" y2="514.30" stroke="#707070" stroke-width="0.8"/>
<text x="48.50" y="514.30" font-size="5.2" font-family="'Liberation Sans', Arial, Helvetica, sans-serif" fill="#222" text-anchor="middle" transform="rotate(-90 48.50 514.30)" dominant-baseline="central">0.4</text>
<line x1="51.70" y1="526.90" x2="54.20" y2="526.90" stroke="#707070" stroke-width="0.8"/>
<text x="48.50" y="526.90" font-size="5.2" font-family="'Liberation Sans', Arial, Helvetica, sans-serif" fill="#222" text-anchor="middle" transform="rotate(-90 48.50 526.90)" dominant-baseline="central">0.3</text>
<line x1="51.70" y1="539.60" x2="54.20" y2="539.60" stroke="#707070" stroke-width="0.8"/>
<text x="48.50" y="539.60" font-size="5.2" font-family="'Liberation Sans', Arial, Helvetica, sans-serif" fill="#222" text-anchor="middle" transform="rotate(-90 48.50 539.60)" dominant-baseline="central">0.2</text>
<line x1="51.70" y1="552.40" x2="54.20" y2="552.40" stroke="#707070" stroke-width="0.8"/>
<text x="48.50" y="552.40" font-size="5.2" font-family="'Liberation Sans', Arial, Helvetica, sans-serif" fill="#222" text-anchor="middle" transform="rotate(-90 48.50 552.40)" dominant-baseline="central">0.1</text>
<line x1="51.70" y1="565.30" x2="54.20" y2="565.30" stroke="#707070" stroke-width="0.8"/>
<line x1="51.70" y1="578.20" x2="54.20" y2="578.20" stroke="#707070" stroke-width="0.8"/>
<text x="48.50" y="578.20" font-size="5.2" font-family="'Liberation Sans', Arial, Helvetica, sans-serif" fill="#222" text-anchor="middle" transform="rotate(-90 48.50 578.20)" dominant-baseline="central">−0.1</text>
<text x="37.80" y="535.30" font-size="7.2" font-family="'Liberation Sans', Arial, Helvetica, sans-serif" fill="#222" text-anchor="middle" textLength="73.20" lengthAdjust="spacingAndGlyphs" transform="rotate(-90 37.80 535.30)" dominant-baseline="central">Enrichment score (ES)</text>
<line x1="54.80" y1="580.30" x2="54.80" y2="609.00" stroke="#000" stroke-width="1.0" stroke-opacity="1.0"/>
<line x1="60.20" y1="580.30" x2="60.20" y2="609.00" stroke="#000" stroke-width="1.0" stroke-opacity="0.55"/>
<line x1="60.80" y1="580.30" x2="60.80" y2="609.00" stroke="#000" stroke-width="1.0" stroke-opacity="0.935"/>
<line x1="64.60" y1="580.30" x2="64.60" y2="609.00" stroke="#000" stroke-width="1.0" stroke-opacity="0.55"/>
<line x1="67.80" y1="580.30" x2="67.80" y2="609.00" stroke="#000" stroke-width="1.0" stroke-opacity="0.935"/>
<line x1="71.00" y1="580.30" x2="71.00" y2="609.00" stroke="#000" stroke-width="1.0" stroke-opacity="0.55"/>
<line x1="75.40" y1="580.30" x2="75.40" y2="609.00" stroke="#000" stroke-width="1.0" stroke-opacity="0.935"/>
<line x1="77.40" y1="580.30" x2="77.40" y2="609.00" stroke="#000" stroke-width="1.0" stroke-opacity="0.935"/>
<line x1="79.30" y1="580.30" x2="79.30" y2="609.00" stroke="#000" stroke-width="1.0" stroke-opacity="0.55"/>
<line x1="88.80" y1="580.30" x2="88.80" y2="609.00" stroke="#000" stroke-width="1.0" stroke-opacity="0.55"/>
<line x1="90.70" y1="580.30" x2="90.70" y2="609.00" stroke="#000" stroke-width="1.0" stroke-opacity="0.935"/>
<line x1="93.90" y1="580.30" x2="93.90" y2="609.00" stroke="#000" stroke-width="1.0" stroke-opacity="0.55"/>
<line x1="98.30" y1="580.30" x2="98.30" y2="609.00" stroke="#000" stroke-width="1.0" stroke-opacity="0.935"/>
<line x1="100.30" y1="580.30" x2="100.30" y2="609.00" stroke="#000" stroke-width="1.0" stroke-opacity="0.55"/>
<line x1="102.80" y1="580.30" x2="102.80" y2="609.00" stroke="#000" stroke-width="1.0" stroke-opacity="0.55"/>
<line x1="111.10" y1="580.30" x2="111.10" y2="609.00" stroke="#000" stroke-width="1.0" stroke-opacity="0.55"/>
<line x1="113.60" y1="580.30" x2="113.60" y2="609.00" stroke="#000" stroke-width="1.0" stroke-opacity="0.935"/>
<line x1="114.90" y1="580.30" x2="114.90" y2="609.00" stroke="#000" stroke-width="1.0" stroke-opacity="0.935"/>
<line x1="116.20" y1="580.30" x2="116.20" y2="609.00" stroke="#000" stroke-width="1.0" stroke-opacity="0.935"/>
<line x1="116.50" y1="580.30" x2="116.50" y2="609.00" stroke="#000" stroke-width="1.0" stroke-opacity="0.935"/>
<line x1="122.60" y1="580.30" x2="122.60" y2="609.00" stroke="#000" stroke-width="1.0" stroke-opacity="0.935"/>
<line x1="127.70" y1="580.30" x2="127.70" y2="609.00" stroke="#000" stroke-width="1.0" stroke-opacity="0.55"/>
<line x1="134.70" y1="580.30" x2="134.70" y2="609.00" stroke="#000" stroke-width="1.0" stroke-opacity="0.935"/>
<line x1="138.50" y1="580.30" x2="138.50" y2="609.00" stroke="#000" stroke-width="1.0" stroke-opacity="0.935"/>
<line x1="151.90" y1="580.30" x2="151.90" y2="609.00" stroke="#000" stroke-width="1.0" stroke-opacity="0.55"/>
<line x1="162.70" y1="580.30" x2="162.70" y2="609.00" stroke="#000" stroke-width="1.0" stroke-opacity="0.935"/>
<line x1="172.90" y1="580.30" x2="172.90" y2="609.00" stroke="#000" stroke-width="1.0" stroke-opacity="0.33"/>
<line x1="174.00" y1="580.30" x2="174.00" y2="609.00" stroke="#000" stroke-width="1.0" stroke-opacity="0.55"/>
<line x1="175.20" y1="580.30" x2="175.20" y2="609.00" stroke="#000" stroke-width="1.0" stroke-opacity="0.33"/>
<line x1="176.40" y1="580.30" x2="176.40" y2="609.00" stroke="#000" stroke-width="1.0" stroke-opacity="0.55"/>
<line x1="177.50" y1="580.30" x2="177.50" y2="609.00" stroke="#000" stroke-width="1.0" stroke-opacity="0.33"/>
<line x1="178.60" y1="580.30" x2="178.60" y2="609.00" stroke="#000" stroke-width="1.0" stroke-opacity="0.55"/>
<line x1="180.50" y1="580.30" x2="180.50" y2="609.00" stroke="#000" stroke-width="1.0" stroke-opacity="0.55"/>
<line x1="183.10" y1="580.30" x2="183.10" y2="609.00" stroke="#000" stroke-width="1.0" stroke-opacity="0.55"/>
<line x1="182.00" y1="580.30" x2="182.00" y2="609.00" stroke="#000" stroke-width="1.0" stroke-opacity="0.55"/>
<line x1="186.00" y1="580.30" x2="186.00" y2="609.00" stroke="#000" stroke-width="1.0" stroke-opacity="0.55"/>
<line x1="189.40" y1="580.30" x2="189.40" y2="609.00" stroke="#000" stroke-width="1.0" stroke-opacity="0.55"/>
<line x1="192.10" y1="580.30" x2="192.10" y2="609.00" stroke="#000" stroke-width="1.0" stroke-opacity="1.0"/>
<line x1="200.20" y1="580.30" x2="200.20" y2="609.00" stroke="#000" stroke-width="1.0" stroke-opacity="0.55"/>
<line x1="203.60" y1="580.30" x2="203.60" y2="609.00" stroke="#000" stroke-width="1.0" stroke-opacity="0.55"/>
<line x1="208.30" y1="580.30" x2="208.30" y2="609.00" stroke="#000" stroke-width="1.0" stroke-opacity="0.55"/>
<line x1="211.00" y1="580.30" x2="211.00" y2="609.00" stroke="#000" stroke-width="1.0" stroke-opacity="0.55"/>
<line x1="214.30" y1="580.30" x2="214.30" y2="609.00" stroke="#000" stroke-width="1.0" stroke-opacity="0.935"/>
<line x1="223.30" y1="580.30" x2="223.30" y2="609.00" stroke="#000" stroke-width="1.0" stroke-opacity="0.55"/>
<line x1="233.60" y1="580.30" x2="233.60" y2="609.00" stroke="#000" stroke-width="1.0" stroke-opacity="0.935"/>
<line x1="239.20" y1="580.30" x2="239.20" y2="609.00" stroke="#000" stroke-width="1.0" stroke-opacity="0.55"/>
<line x1="246.00" y1="580.30" x2="246.00" y2="609.00" stroke="#000" stroke-width="1.0" stroke-opacity="0.55"/>
<defs><linearGradient id="ge" x1="0" x2="1" y1="0" y2="0"><stop offset="0.000" stop-color="#a04428"/><stop offset="0.038" stop-color="#a04428"/><stop offset="0.074" stop-color="#c85040"/><stop offset="0.118" stop-color="#c85040"/><stop offset="0.155" stop-color="#e08070"/><stop offset="0.194" stop-color="#e08070"/><stop offset="0.230" stop-color="#eeb0a8"/><stop offset="0.279" stop-color="#eeb0a8"/><stop offset="0.316" stop-color="#f8e0e0"/><stop offset="0.593" stop-color="#f8e0e0"/><stop offset="0.630" stop-color="#e0e0f8"/><stop offset="0.670" stop-color="#e0e0f8"/><stop offset="0.706" stop-color="#b8b8f0"/><stop offset="0.748" stop-color="#b8b8f0"/><stop offset="0.784" stop-color="#8080e8"/><stop offset="0.826" stop-color="#8080e8"/><stop offset="0.862" stop-color="#2828e0"/><stop offset="0.902" stop-color="#2828e0"/><stop offset="0.938" stop-color="#0c0cd0"/><stop offset="1.000" stop-color="#0c0cd0"/></linearGradient></defs>
<rect x="54.80" y="609.00" width="192.20" height="7.00" fill="url(#ge)"/>
<defs><linearGradient id="pe" x1="0" x2="1"><stop offset="0" stop-color="#f0609f" stop-opacity="0.85"/><stop offset="0.6" stop-color="#f0609f" stop-opacity="0.6"/><stop offset="1" stop-color="#f0609f" stop-opacity="0"/></linearGradient></defs>
<rect x="54.20" y="608.40" width="70.00" height="2.20" fill="url(#pe)"/>
<rect x="49.50" y="607.00" width="4.70" height="11.00" fill="#fdeef6" opacity="0.9"/>
<path d="M54.50,648.20 L54.50,635.30 L55.50,637.15 L57.50,638.99 L60.50,640.46 L64.00,641.71 L68.50,642.89 L76.50,644.29 L88.50,645.62 L104.50,646.87 L118.50,647.61 L126.60,648.20 L149.00,648.35 L179.00,648.57 L194.00,649.67 L208.00,651.30 L219.00,652.62 L230.00,654.39 L237.00,655.57 L240.50,656.60 L243.50,658.52 L245.00,660.73 L246.00,666.62 L246.60,674.73 L246.60,648.20 Z" fill="#cfcfcf" stroke="none"/>
<line x1="126.20" y1="616.00" x2="126.20" y2="679.50" stroke="#ebebeb" stroke-width="0.8"/>
<text x="104.00" y="646.70" font-size="8.4" font-family="'Liberation Sans', Arial, Helvetica, sans-serif" fill="#1a1a1a" textLength="63.50" lengthAdjust="spacingAndGlyphs">Zero cross at 18461</text>
<line x1="51.70" y1="618.72" x2="54.20" y2="618.72" stroke="#707070" stroke-width="0.8"/>
<text x="46.50" y="618.72" font-size="5.2" font-family="'Liberation Sans', Arial, Helvetica, sans-serif" fill="#222" text-anchor="middle" transform="rotate(-90 46.50 618.72)" dominant-baseline="central">4</text>
<line x1="51.70" y1="633.46" x2="54.20" y2="633.46" stroke="#707070" stroke-width="0.8"/>
<text x="46.50" y="633.46" font-size="5.2" font-family="'Liberation Sans', Arial, Helvetica, sans-serif" fill="#222" text-anchor="middle" transform="rotate(-90 46.50 633.46)" dominant-baseline="central">2</text>
<line x1="51.70" y1="648.20" x2="54.20" y2="648.20" stroke="#707070" stroke-width="0.8"/>
<text x="46.50" y="648.20" font-size="5.2" font-family="'Liberation Sans', Arial, Helvetica, sans-serif" fill="#222" text-anchor="middle" transform="rotate(-90 46.50 648.20)" dominant-baseline="central">0</text>
<line x1="51.70" y1="662.94" x2="54.20" y2="662.94" stroke="#707070" stroke-width="0.8"/>
<text x="46.50" y="662.94" font-size="5.2" font-family="'Liberation Sans', Arial, Helvetica, sans-serif" fill="#222" text-anchor="middle" transform="rotate(-90 46.50 662.94)" dominant-baseline="central">−2</text>
<line x1="51.70" y1="677.68" x2="54.20" y2="677.68" stroke="#707070" stroke-width="0.8"/>
<text x="46.50" y="677.68" font-size="5.2" font-family="'Liberation Sans', Arial, Helvetica, sans-serif" fill="#222" text-anchor="middle" transform="rotate(-90 46.50 677.68)" dominant-baseline="central">−4</text>
<text x="37.60" y="647.90" font-size="7.2" font-family="'Liberation Sans', Arial, Helvetica, sans-serif" fill="#222" text-anchor="middle" textLength="25.00" lengthAdjust="spacingAndGlyphs" transform="rotate(-90 37.60 647.90)" dominant-baseline="central">SCORE</text>
<line x1="92.70" y1="679.50" x2="92.70" y2="681.50" stroke="#707070" stroke-width="0.8"/>
<text x="92.70" y="687.60" font-size="5.0" font-family="'Liberation Sans', Arial, Helvetica, sans-serif" fill="#222" text-anchor="middle" textLength="14.00" lengthAdjust="spacingAndGlyphs">10000</text>
<line x1="131.80" y1="679.50" x2="131.80" y2="681.50" stroke="#707070" stroke-width="0.8"/>
<text x="131.80" y="687.60" font-size="5.0" font-family="'Liberation Sans', Arial, Helvetica, sans-serif" fill="#222" text-anchor="middle" textLength="14.00" lengthAdjust="spacingAndGlyphs">20000</text>
<line x1="170.90" y1="679.50" x2="170.90" y2="681.50" stroke="#707070" stroke-width="0.8"/>
<text x="170.90" y="687.60" font-size="5.0" font-family="'Liberation Sans', Arial, Helvetica, sans-serif" fill="#222" text-anchor="middle" textLength="14.00" lengthAdjust="spacingAndGlyphs">30000</text>
<line x1="210.00" y1="679.50" x2="210.00" y2="681.50" stroke="#707070" stroke-width="0.8"/>
<text x="210.00" y="687.60" font-size="5.0" font-family="'Liberation Sans', Arial, Helvetica, sans-serif" fill="#222" text-anchor="middle" textLength="14.00" lengthAdjust="spacingAndGlyphs">40000</text>
<line x1="249.10" y1="679.50" x2="249.10" y2="681.50" stroke="#707070" stroke-width="0.8"/>
<text x="249.10" y="687.60" font-size="5.0" font-family="'Liberation Sans', Arial, Helvetica, sans-serif" fill="#222" text-anchor="middle" textLength="14.00" lengthAdjust="spacingAndGlyphs">50000</text>
<text x="152.40" y="695.50" font-size="6.9" font-family="'Liberation Sans', Arial, Helvetica, sans-serif" fill="#1a1a1a" text-anchor="middle" textLength="80.00" lengthAdjust="spacingAndGlyphs">Rank in ordered gene list</text>
<g fill="none" stroke="#707070" stroke-width="0.9">
<rect x="54.20" y="491.40" width="196.30" height="88.90"/>
<rect x="54.20" y="580.30" width="196.30" height="35.70"/>
<rect x="54.20" y="616.00" width="196.30" height="63.50"/>
<line x1="54.20" y1="609.00" x2="250.50" y2="609.00" stroke-width="0.6"/>
</g>
<text x="56.80" y="614.40" font-size="2.6" font-family="'Liberation Sans', Arial, Helvetica, sans-serif" fill="#5a1010" textLength="12.00" lengthAdjust="spacingAndGlyphs" class="s">Positive</text>
<text x="245.00" y="614.40" font-size="2.6" font-family="'Liberation Sans', Arial, Helvetica, sans-serif" fill="#10105a" text-anchor="end" textLength="12.00" lengthAdjust="spacingAndGlyphs" class="s">Negative</text>
</svg>
</body></html>
